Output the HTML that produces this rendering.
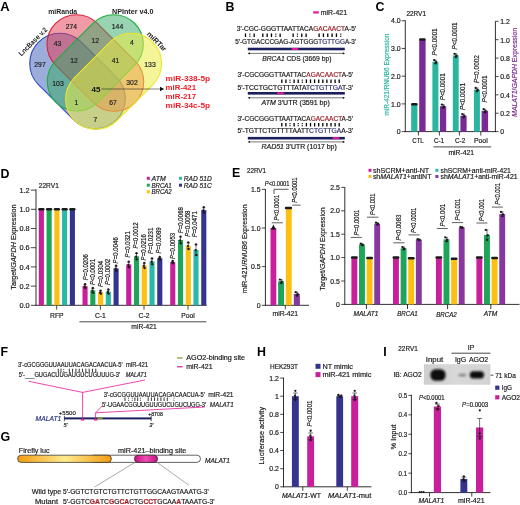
<!DOCTYPE html>
<html lang="en"><head><meta charset="utf-8"><title>Figure</title>
<style>
html,body{margin:0;padding:0;background:#fff;}
body{width:520px;height:505px;overflow:hidden;}
svg{display:block;font-family:"Liberation Sans", sans-serif;}
</style></head><body>
<svg width="520" height="505" viewBox="0 0 520 505">
<defs>
<linearGradient id="gO" x1="0" x2="1" y1="0" y2="0"><stop offset="0" stop-color="#f39c12"/><stop offset="0.5" stop-color="#fdeb8c"/><stop offset="1" stop-color="#f39c12"/></linearGradient>
<linearGradient id="gM" x1="0" x2="1" y1="0" y2="0"><stop offset="0" stop-color="#c4107f"/><stop offset="0.5" stop-color="#f04cb4"/><stop offset="1" stop-color="#c4107f"/></linearGradient>
<linearGradient id="gB" x1="0" x2="1" y1="0" y2="0"><stop offset="0" stop-color="#cfcfcf"/><stop offset="0.5" stop-color="#d8d8d8"/><stop offset="1" stop-color="#d2d2d2"/></linearGradient>
<filter id="bl" x="-30%" y="-30%" width="160%" height="160%"><feGaussianBlur stdDeviation="0.9"/></filter>
</defs>
<rect width="520" height="505" fill="#fff"/>
<text x="0.20" y="10.80" font-size="13" fill="#000" font-weight="bold">A</text>
<path d="M38.15 84.35 A30.2 30.2 0 0 1 80.85 41.65 L116.95 77.75 A30.2 30.2 0 0 1 74.25 120.45 Z" fill="#3c5cb8" fill-opacity="0.5" stroke="#2848c4" stroke-width="1.1"/>
<path d="M55.67 65.09 A29.5 29.5 0 0 1 97.33 23.31 L135.03 60.91 A29.5 29.5 0 0 1 93.37 102.69 Z" fill="#e4384e" fill-opacity="0.5" stroke="#dc2038" stroke-width="1.1"/>
<path d="M92.86 23.42 A29.5 29.5 0 0 1 134.74 64.98 L97.74 102.28 A29.5 29.5 0 0 1 55.86 60.72 Z" fill="#32aa64" fill-opacity="0.5" stroke="#1fae40" stroke-width="1.1"/>
<path d="M110.45 41.65 A30.2 30.2 0 0 1 153.15 84.35 L116.75 120.75 A30.2 30.2 0 0 1 74.05 78.05 Z" fill="#ebeb46" fill-opacity="0.55" stroke="#eee628" stroke-width="1.1"/>
<text x="48.20" y="14.20" font-size="7.2" fill="#222" font-weight="bold" textLength="29.00" lengthAdjust="spacingAndGlyphs">miRanda</text>
<text x="112.00" y="14.20" font-size="7.2" fill="#222" font-weight="bold" textLength="41.50" lengthAdjust="spacingAndGlyphs">NPInter v4.0</text>
<text x="21.50" y="56.50" font-size="7.2" fill="#222" font-weight="bold" transform="rotate(-45 21.50 56.50)" textLength="37.00" lengthAdjust="spacingAndGlyphs">LncBase v.2</text>
<text x="146.50" y="34.50" font-size="7.2" fill="#222" font-weight="bold" transform="rotate(45 146.50 34.50)" textLength="24.50" lengthAdjust="spacingAndGlyphs">miRTar</text>
<text x="71.30" y="28.60" font-size="6.8" text-anchor="middle" fill="#222" stroke="#222" stroke-width="0.18">274</text>
<text x="117.50" y="28.60" font-size="6.8" text-anchor="middle" fill="#222" stroke="#222" stroke-width="0.18">144</text>
<text x="57.50" y="45.50" font-size="6.8" text-anchor="middle" fill="#222" stroke="#222" stroke-width="0.18">43</text>
<text x="95.20" y="42.50" font-size="6.8" text-anchor="middle" fill="#222" stroke="#222" stroke-width="0.18">12</text>
<text x="132.00" y="45.00" font-size="6.8" text-anchor="middle" fill="#222" stroke="#222" stroke-width="0.18">4</text>
<text x="40.00" y="67.00" font-size="6.8" text-anchor="middle" fill="#222" stroke="#222" stroke-width="0.18">297</text>
<text x="74.00" y="62.50" font-size="6.8" text-anchor="middle" fill="#222" stroke="#222" stroke-width="0.18">12</text>
<text x="115.50" y="62.50" font-size="6.8" text-anchor="middle" fill="#222" stroke="#222" stroke-width="0.18">41</text>
<text x="150.00" y="67.00" font-size="6.8" text-anchor="middle" fill="#222" stroke="#222" stroke-width="0.18">133</text>
<text x="58.00" y="85.50" font-size="6.8" text-anchor="middle" fill="#222" stroke="#222" stroke-width="0.18">103</text>
<text x="132.00" y="84.50" font-size="6.8" text-anchor="middle" fill="#222" stroke="#222" stroke-width="0.18">302</text>
<text x="76.50" y="104.50" font-size="6.8" text-anchor="middle" fill="#222" stroke="#222" stroke-width="0.18">1</text>
<text x="113.00" y="104.50" font-size="6.8" text-anchor="middle" fill="#222" stroke="#222" stroke-width="0.18">67</text>
<text x="95.50" y="121.50" font-size="6.8" text-anchor="middle" fill="#222" stroke="#222" stroke-width="0.18">7</text>
<text x="96.00" y="92.00" font-size="8" text-anchor="middle" fill="#111" font-weight="bold">45</text>
<line x1="101.50" y1="89.00" x2="160.50" y2="89.00" stroke="#1a1a1a" stroke-width="0.55"/>
<path d="M164.2 89 L160 86.8 L160 91.2 Z" fill="#111"/>
<text x="165.60" y="80.50" font-size="8" fill="#ee1c25" font-weight="bold" textLength="44.50" lengthAdjust="spacingAndGlyphs">miR-338-5p</text>
<text x="165.60" y="89.55" font-size="8" fill="#ee1c25" font-weight="bold" textLength="30.50" lengthAdjust="spacingAndGlyphs">miR-421</text>
<text x="165.60" y="98.60" font-size="8" fill="#ee1c25" font-weight="bold" textLength="30.50" lengthAdjust="spacingAndGlyphs">miR-217</text>
<text x="165.60" y="107.65" font-size="8" fill="#ee1c25" font-weight="bold" textLength="44.50" lengthAdjust="spacingAndGlyphs">miR-34c-5p</text>
<text x="225.60" y="10.60" font-size="12.4" fill="#000" font-weight="bold">B</text>
<rect x="313.20" y="11.30" width="5.60" height="2.20" fill="#e6189b"/>
<text x="320.80" y="15.00" font-size="7.2" fill="#1a1a1a" stroke="#1a1a1a" stroke-width="0.18" textLength="26.20" lengthAdjust="spacingAndGlyphs">miR-421</text>
<text x="236.80" y="31.00" font-size="6.6" fill="#1a1a1a" stroke="#1a1a1a" stroke-width="0.18" textLength="119.30" lengthAdjust="spacingAndGlyphs">3'-CGC-GGGTTAATTACA<tspan fill="#e5202e">GACAACT</tspan>A-5'</text>
<line x1="245.50" y1="33.40" x2="245.50" y2="37.00" stroke="#000" stroke-width="1.3"/>
<rect x="249.23" y="33.60" width="1.20" height="1.10" fill="#000"/>
<rect x="249.23" y="35.70" width="1.20" height="1.10" fill="#000"/>
<line x1="254.16" y1="33.40" x2="254.16" y2="37.00" stroke="#000" stroke-width="1.3"/>
<line x1="262.82" y1="33.40" x2="262.82" y2="37.00" stroke="#000" stroke-width="1.3"/>
<line x1="267.15" y1="33.40" x2="267.15" y2="37.00" stroke="#000" stroke-width="1.3"/>
<line x1="271.48" y1="33.40" x2="271.48" y2="37.00" stroke="#000" stroke-width="1.3"/>
<rect x="275.21" y="33.60" width="1.20" height="1.10" fill="#000"/>
<rect x="275.21" y="35.70" width="1.20" height="1.10" fill="#000"/>
<line x1="280.14" y1="33.40" x2="280.14" y2="37.00" stroke="#000" stroke-width="1.3"/>
<line x1="293.13" y1="33.40" x2="293.13" y2="37.00" stroke="#000" stroke-width="1.3"/>
<rect x="296.86" y="33.60" width="1.20" height="1.10" fill="#000"/>
<rect x="296.86" y="35.70" width="1.20" height="1.10" fill="#000"/>
<line x1="301.79" y1="33.40" x2="301.79" y2="37.00" stroke="#000" stroke-width="1.3"/>
<line x1="306.12" y1="33.40" x2="306.12" y2="37.00" stroke="#000" stroke-width="1.3"/>
<line x1="319.11" y1="33.40" x2="319.11" y2="37.00" stroke="#000" stroke-width="1.3"/>
<line x1="323.44" y1="33.40" x2="323.44" y2="37.00" stroke="#000" stroke-width="1.3"/>
<line x1="327.77" y1="33.40" x2="327.77" y2="37.00" stroke="#000" stroke-width="1.3"/>
<line x1="332.10" y1="33.40" x2="332.10" y2="37.00" stroke="#000" stroke-width="1.3"/>
<line x1="336.43" y1="33.40" x2="336.43" y2="37.00" stroke="#000" stroke-width="1.3"/>
<rect x="340.16" y="33.60" width="1.20" height="1.10" fill="#000"/>
<rect x="340.16" y="35.70" width="1.20" height="1.10" fill="#000"/>
<text x="235.20" y="44.00" font-size="6.6" fill="#1a1a1a" stroke="#1a1a1a" stroke-width="0.18" textLength="120.90" lengthAdjust="spacingAndGlyphs">5'-GTGACCCGAG-AGTGGG<tspan fill="#3a3f9e">TGTTGG</tspan>A-3'</text>
<rect x="247.80" y="47.70" width="97.00" height="2.60" fill="#1b1f5e"/>
<rect x="291.70" y="48.00" width="6.50" height="2.00" fill="#e6189b"/>
<line x1="249.00" y1="53.40" x2="344.00" y2="53.40" stroke="#1a1a1a" stroke-width="0.6"/>
<path d="M247.6 53.4 l2.2 -1.1 v2.2 Z M345 53.4 l-2.2 -1.1 v2.2 Z" fill="#111"/>
<text x="262.20" y="61.00" font-size="6.8" fill="#1a1a1a" stroke="#1a1a1a" stroke-width="0.18" textLength="69.20" lengthAdjust="spacingAndGlyphs"><tspan font-style="italic">BRCA1</tspan> CDS (3669 bp)</text>
<text x="237.50" y="77.40" font-size="6.6" fill="#1a1a1a" stroke="#1a1a1a" stroke-width="0.18" textLength="115.50" lengthAdjust="spacingAndGlyphs">3'-CGCGGGTTAATTAC<tspan fill="#e5202e">AGACAACT</tspan>A-5'</text>
<line x1="281.80" y1="79.40" x2="281.80" y2="83.00" stroke="#000" stroke-width="1.3"/>
<line x1="285.90" y1="79.40" x2="285.90" y2="83.00" stroke="#000" stroke-width="1.3"/>
<rect x="289.40" y="79.60" width="1.20" height="1.10" fill="#000"/>
<rect x="289.40" y="81.70" width="1.20" height="1.10" fill="#000"/>
<line x1="294.10" y1="79.40" x2="294.10" y2="83.00" stroke="#000" stroke-width="1.3"/>
<line x1="298.20" y1="79.40" x2="298.20" y2="83.00" stroke="#000" stroke-width="1.3"/>
<rect x="301.70" y="79.60" width="1.20" height="1.10" fill="#000"/>
<rect x="301.70" y="81.70" width="1.20" height="1.10" fill="#000"/>
<line x1="306.40" y1="79.40" x2="306.40" y2="83.00" stroke="#000" stroke-width="1.3"/>
<line x1="310.50" y1="79.40" x2="310.50" y2="83.00" stroke="#000" stroke-width="1.3"/>
<line x1="314.60" y1="79.40" x2="314.60" y2="83.00" stroke="#000" stroke-width="1.3"/>
<line x1="318.70" y1="79.40" x2="318.70" y2="83.00" stroke="#000" stroke-width="1.3"/>
<line x1="322.80" y1="79.40" x2="322.80" y2="83.00" stroke="#000" stroke-width="1.3"/>
<line x1="326.90" y1="79.40" x2="326.90" y2="83.00" stroke="#000" stroke-width="1.3"/>
<line x1="331.00" y1="79.40" x2="331.00" y2="83.00" stroke="#000" stroke-width="1.3"/>
<line x1="335.10" y1="79.40" x2="335.10" y2="83.00" stroke="#000" stroke-width="1.3"/>
<line x1="339.20" y1="79.40" x2="339.20" y2="83.00" stroke="#000" stroke-width="1.3"/>
<text x="237.50" y="89.50" font-size="6.6" fill="#1a1a1a" stroke="#1a1a1a" stroke-width="0.18" textLength="115.50" lengthAdjust="spacingAndGlyphs">5'-TCCTGCTGTTTATA<tspan fill="#3a3f9e">TCTGTTGA</tspan>T-3'</text>
<rect x="247.80" y="92.00" width="97.00" height="2.60" fill="#1b1f5e"/>
<rect x="277.30" y="92.30" width="6.60" height="2.00" fill="#e6189b"/>
<line x1="249.00" y1="97.80" x2="344.00" y2="97.80" stroke="#1a1a1a" stroke-width="0.6"/>
<path d="M247.6 97.8 l2.2 -1.1 v2.2 Z M345 97.8 l-2.2 -1.1 v2.2 Z" fill="#111"/>
<text x="261.50" y="105.40" font-size="6.8" fill="#1a1a1a" stroke="#1a1a1a" stroke-width="0.18" textLength="68.30" lengthAdjust="spacingAndGlyphs"><tspan font-style="italic">ATM</tspan> 3'UTR (3591 bp)</text>
<text x="237.50" y="121.00" font-size="6.6" fill="#1a1a1a" stroke="#1a1a1a" stroke-width="0.18" textLength="115.50" lengthAdjust="spacingAndGlyphs">3'-CGCGGGTTAATTACA<tspan fill="#e5202e">GACAACT</tspan>A-5'</text>
<line x1="281.80" y1="122.90" x2="281.80" y2="126.50" stroke="#000" stroke-width="1.3"/>
<line x1="285.90" y1="122.90" x2="285.90" y2="126.50" stroke="#000" stroke-width="1.3"/>
<rect x="289.40" y="123.10" width="1.20" height="1.10" fill="#000"/>
<rect x="289.40" y="125.20" width="1.20" height="1.10" fill="#000"/>
<line x1="294.10" y1="122.90" x2="294.10" y2="126.50" stroke="#000" stroke-width="1.3"/>
<rect x="297.60" y="123.10" width="1.20" height="1.10" fill="#000"/>
<rect x="297.60" y="125.20" width="1.20" height="1.10" fill="#000"/>
<rect x="301.70" y="123.10" width="1.20" height="1.10" fill="#000"/>
<rect x="301.70" y="125.20" width="1.20" height="1.10" fill="#000"/>
<line x1="306.40" y1="122.90" x2="306.40" y2="126.50" stroke="#000" stroke-width="1.3"/>
<line x1="310.50" y1="122.90" x2="310.50" y2="126.50" stroke="#000" stroke-width="1.3"/>
<line x1="314.60" y1="122.90" x2="314.60" y2="126.50" stroke="#000" stroke-width="1.3"/>
<line x1="318.70" y1="122.90" x2="318.70" y2="126.50" stroke="#000" stroke-width="1.3"/>
<line x1="322.80" y1="122.90" x2="322.80" y2="126.50" stroke="#000" stroke-width="1.3"/>
<line x1="326.90" y1="122.90" x2="326.90" y2="126.50" stroke="#000" stroke-width="1.3"/>
<line x1="331.00" y1="122.90" x2="331.00" y2="126.50" stroke="#000" stroke-width="1.3"/>
<line x1="335.10" y1="122.90" x2="335.10" y2="126.50" stroke="#000" stroke-width="1.3"/>
<line x1="339.20" y1="122.90" x2="339.20" y2="126.50" stroke="#000" stroke-width="1.3"/>
<text x="237.50" y="132.60" font-size="6.6" fill="#1a1a1a" stroke="#1a1a1a" stroke-width="0.18" textLength="115.50" lengthAdjust="spacingAndGlyphs">5'-TGTTCTGTTTTAATT<tspan fill="#3a3f9e">CTGTTGA</tspan>A-3'</text>
<rect x="247.80" y="136.90" width="97.00" height="2.60" fill="#1b1f5e"/>
<rect x="332.60" y="137.20" width="6.70" height="2.00" fill="#e6189b"/>
<line x1="249.00" y1="141.90" x2="344.00" y2="141.90" stroke="#1a1a1a" stroke-width="0.6"/>
<path d="M247.6 141.9 l2.2 -1.1 v2.2 Z M345 141.9 l-2.2 -1.1 v2.2 Z" fill="#111"/>
<text x="261.50" y="149.20" font-size="6.8" fill="#1a1a1a" stroke="#1a1a1a" stroke-width="0.18" textLength="75.30" lengthAdjust="spacingAndGlyphs"><tspan font-style="italic">RAD51</tspan> 3'UTR (1017 bp)</text>
<text x="375.60" y="11.00" font-size="12.4" fill="#000" font-weight="bold">C</text>
<text x="406.40" y="16.20" font-size="6.8" fill="#1a1a1a" stroke="#1a1a1a" stroke-width="0.18" textLength="19.60" lengthAdjust="spacingAndGlyphs">22RV1</text>
<line x1="405.30" y1="20.30" x2="405.30" y2="132.05" stroke="#1a1a1a" stroke-width="0.9"/>
<line x1="495.40" y1="21.20" x2="495.40" y2="132.05" stroke="#1a1a1a" stroke-width="0.9"/>
<line x1="404.85" y1="131.60" x2="495.85" y2="131.60" stroke="#1a1a1a" stroke-width="0.9"/>
<line x1="401.70" y1="20.72" x2="405.30" y2="20.72" stroke="#1a1a1a" stroke-width="0.8"/>
<text x="400.70" y="23.42" font-size="6.9" text-anchor="end" fill="#1a1a1a" stroke="#1a1a1a" stroke-width="0.18">4.0</text>
<line x1="401.70" y1="48.44" x2="405.30" y2="48.44" stroke="#1a1a1a" stroke-width="0.8"/>
<text x="400.70" y="51.14" font-size="6.9" text-anchor="end" fill="#1a1a1a" stroke="#1a1a1a" stroke-width="0.18">3.0</text>
<line x1="401.70" y1="76.16" x2="405.30" y2="76.16" stroke="#1a1a1a" stroke-width="0.8"/>
<text x="400.70" y="78.86" font-size="6.9" text-anchor="end" fill="#1a1a1a" stroke="#1a1a1a" stroke-width="0.18">2.0</text>
<line x1="401.70" y1="103.88" x2="405.30" y2="103.88" stroke="#1a1a1a" stroke-width="0.8"/>
<text x="400.70" y="106.58" font-size="6.9" text-anchor="end" fill="#1a1a1a" stroke="#1a1a1a" stroke-width="0.18">1.0</text>
<line x1="401.70" y1="131.60" x2="405.30" y2="131.60" stroke="#1a1a1a" stroke-width="0.8"/>
<text x="400.70" y="134.30" font-size="6.9" text-anchor="end" fill="#1a1a1a" stroke="#1a1a1a" stroke-width="0.18">0</text>
<line x1="495.40" y1="21.32" x2="498.60" y2="21.32" stroke="#1a1a1a" stroke-width="0.8"/>
<text x="500.20" y="24.12" font-size="6.9" fill="#1a1a1a" stroke="#1a1a1a" stroke-width="0.18">1.2</text>
<line x1="495.40" y1="39.70" x2="498.60" y2="39.70" stroke="#1a1a1a" stroke-width="0.8"/>
<text x="500.20" y="42.50" font-size="6.9" fill="#1a1a1a" stroke="#1a1a1a" stroke-width="0.18">1.0</text>
<line x1="495.40" y1="58.08" x2="498.60" y2="58.08" stroke="#1a1a1a" stroke-width="0.8"/>
<text x="500.20" y="60.88" font-size="6.9" fill="#1a1a1a" stroke="#1a1a1a" stroke-width="0.18">0.8</text>
<line x1="495.40" y1="76.46" x2="498.60" y2="76.46" stroke="#1a1a1a" stroke-width="0.8"/>
<text x="500.20" y="79.26" font-size="6.9" fill="#1a1a1a" stroke="#1a1a1a" stroke-width="0.18">0.6</text>
<line x1="495.40" y1="94.84" x2="498.60" y2="94.84" stroke="#1a1a1a" stroke-width="0.8"/>
<text x="500.20" y="97.64" font-size="6.9" fill="#1a1a1a" stroke="#1a1a1a" stroke-width="0.18">0.4</text>
<line x1="495.40" y1="113.22" x2="498.60" y2="113.22" stroke="#1a1a1a" stroke-width="0.8"/>
<text x="500.20" y="116.02" font-size="6.9" fill="#1a1a1a" stroke="#1a1a1a" stroke-width="0.18">0.2</text>
<line x1="495.40" y1="131.60" x2="498.60" y2="131.60" stroke="#1a1a1a" stroke-width="0.8"/>
<text x="500.20" y="134.40" font-size="6.9" fill="#1a1a1a" stroke="#1a1a1a" stroke-width="0.18">0</text>
<rect x="411.20" y="104.30" width="6.20" height="27.30" fill="#2ab5a0"/>
<rect x="419.20" y="39.60" width="6.40" height="92.00" fill="#7a2a96"/>
<line x1="418.40" y1="131.60" x2="418.40" y2="135.60" stroke="#1a1a1a" stroke-width="0.8"/>
<line x1="412.30" y1="104.30" x2="416.30" y2="104.30" stroke="#1a1a1a" stroke-width="2.5" stroke-linecap="round"/>
<line x1="420.40" y1="39.60" x2="424.40" y2="39.60" stroke="#1a1a1a" stroke-width="2.5" stroke-linecap="round"/>
<rect x="432.40" y="61.80" width="6.00" height="69.80" fill="#2ab5a0"/>
<rect x="439.90" y="106.20" width="6.30" height="25.40" fill="#7a2a96"/>
<line x1="439.40" y1="131.60" x2="439.40" y2="135.60" stroke="#1a1a1a" stroke-width="0.8"/>
<line x1="435.40" y1="60.20" x2="435.40" y2="63.40" stroke="#1a1a1a" stroke-width="0.6"/>
<line x1="433.80" y1="60.20" x2="437.00" y2="60.20" stroke="#1a1a1a" stroke-width="0.6"/>
<line x1="433.80" y1="63.40" x2="437.00" y2="63.40" stroke="#1a1a1a" stroke-width="0.6"/>
<circle cx="434.20" cy="60.20" r="1.15" fill="#1a1a1a"/>
<circle cx="436.20" cy="62.10" r="1.15" fill="#1a1a1a"/>
<circle cx="435.60" cy="63.40" r="1.15" fill="#1a1a1a"/>
<line x1="443.05" y1="104.60" x2="443.05" y2="107.80" stroke="#1a1a1a" stroke-width="0.6"/>
<line x1="441.45" y1="104.60" x2="444.65" y2="104.60" stroke="#1a1a1a" stroke-width="0.6"/>
<line x1="441.45" y1="107.80" x2="444.65" y2="107.80" stroke="#1a1a1a" stroke-width="0.6"/>
<circle cx="441.85" cy="104.60" r="1.15" fill="#1a1a1a"/>
<circle cx="443.85" cy="106.50" r="1.15" fill="#1a1a1a"/>
<circle cx="443.25" cy="107.80" r="1.15" fill="#1a1a1a"/>
<rect x="452.80" y="55.40" width="5.90" height="76.20" fill="#2ab5a0"/>
<rect x="460.40" y="115.70" width="6.20" height="15.90" fill="#7a2a96"/>
<line x1="459.40" y1="131.60" x2="459.40" y2="135.60" stroke="#1a1a1a" stroke-width="0.8"/>
<line x1="455.75" y1="53.80" x2="455.75" y2="57.00" stroke="#1a1a1a" stroke-width="0.6"/>
<line x1="454.15" y1="53.80" x2="457.35" y2="53.80" stroke="#1a1a1a" stroke-width="0.6"/>
<line x1="454.15" y1="57.00" x2="457.35" y2="57.00" stroke="#1a1a1a" stroke-width="0.6"/>
<circle cx="454.55" cy="53.80" r="1.15" fill="#1a1a1a"/>
<circle cx="456.55" cy="55.70" r="1.15" fill="#1a1a1a"/>
<circle cx="455.95" cy="57.00" r="1.15" fill="#1a1a1a"/>
<line x1="463.50" y1="114.10" x2="463.50" y2="117.30" stroke="#1a1a1a" stroke-width="0.6"/>
<line x1="461.90" y1="114.10" x2="465.10" y2="114.10" stroke="#1a1a1a" stroke-width="0.6"/>
<line x1="461.90" y1="117.30" x2="465.10" y2="117.30" stroke="#1a1a1a" stroke-width="0.6"/>
<circle cx="462.30" cy="114.10" r="1.15" fill="#1a1a1a"/>
<circle cx="464.30" cy="116.00" r="1.15" fill="#1a1a1a"/>
<circle cx="463.70" cy="117.30" r="1.15" fill="#1a1a1a"/>
<rect x="473.90" y="89.60" width="6.00" height="42.00" fill="#2ab5a0"/>
<rect x="481.60" y="110.80" width="6.50" height="20.80" fill="#7a2a96"/>
<line x1="480.80" y1="131.60" x2="480.80" y2="135.60" stroke="#1a1a1a" stroke-width="0.8"/>
<line x1="476.90" y1="88.00" x2="476.90" y2="91.20" stroke="#1a1a1a" stroke-width="0.6"/>
<line x1="475.30" y1="88.00" x2="478.50" y2="88.00" stroke="#1a1a1a" stroke-width="0.6"/>
<line x1="475.30" y1="91.20" x2="478.50" y2="91.20" stroke="#1a1a1a" stroke-width="0.6"/>
<circle cx="475.70" cy="88.00" r="1.15" fill="#1a1a1a"/>
<circle cx="477.70" cy="89.90" r="1.15" fill="#1a1a1a"/>
<circle cx="477.10" cy="91.20" r="1.15" fill="#1a1a1a"/>
<line x1="484.85" y1="109.20" x2="484.85" y2="112.40" stroke="#1a1a1a" stroke-width="0.6"/>
<line x1="483.25" y1="109.20" x2="486.45" y2="109.20" stroke="#1a1a1a" stroke-width="0.6"/>
<line x1="483.25" y1="112.40" x2="486.45" y2="112.40" stroke="#1a1a1a" stroke-width="0.6"/>
<circle cx="483.65" cy="109.20" r="1.15" fill="#1a1a1a"/>
<circle cx="485.65" cy="111.10" r="1.15" fill="#1a1a1a"/>
<circle cx="485.05" cy="112.40" r="1.15" fill="#1a1a1a"/>
<text x="418.00" y="143.40" font-size="6.9" text-anchor="middle" fill="#1a1a1a" stroke="#1a1a1a" stroke-width="0.18" textLength="11.50" lengthAdjust="spacingAndGlyphs">CTL</text>
<text x="439.00" y="143.40" font-size="6.9" text-anchor="middle" fill="#1a1a1a" stroke="#1a1a1a" stroke-width="0.18" textLength="10.20" lengthAdjust="spacingAndGlyphs">C-1</text>
<text x="460.10" y="143.40" font-size="6.9" text-anchor="middle" fill="#1a1a1a" stroke="#1a1a1a" stroke-width="0.18" textLength="10.40" lengthAdjust="spacingAndGlyphs">C-2</text>
<text x="480.80" y="143.40" font-size="6.9" text-anchor="middle" fill="#1a1a1a" stroke="#1a1a1a" stroke-width="0.18" textLength="13.80" lengthAdjust="spacingAndGlyphs">Pool</text>
<line x1="433.40" y1="146.90" x2="491.20" y2="146.90" stroke="#1a1a1a" stroke-width="0.8"/>
<text x="461.20" y="154.50" font-size="6.9" text-anchor="middle" fill="#1a1a1a" stroke="#1a1a1a" stroke-width="0.18" textLength="25.50" lengthAdjust="spacingAndGlyphs">miR-421</text>
<text x="389.30" y="115.60" font-size="7.2" fill="#2ab5a0" stroke="#2ab5a0" stroke-width="0.18" transform="rotate(-90 389.30 115.60)" textLength="82.00" lengthAdjust="spacingAndGlyphs">miR-421/RNUB6 Expression</text>
<text x="517.20" y="116.80" font-size="7.2" fill="#7a2a96" stroke="#7a2a96" stroke-width="0.18" transform="rotate(-90 517.20 116.80)" textLength="88.80" lengthAdjust="spacingAndGlyphs"><tspan font-style="italic">MALAT1</tspan>/<tspan font-style="italic">GAPDH</tspan> Expression</text>
<text x="436.90" y="55.40" font-size="6.4" fill="#1a1a1a" stroke="#1a1a1a" stroke-width="0.18" transform="rotate(-90 436.90 55.40)" textLength="27.00" lengthAdjust="spacingAndGlyphs"><tspan font-style="italic">P</tspan>&lt;0.0001</text>
<text x="456.90" y="49.40" font-size="6.4" fill="#1a1a1a" stroke="#1a1a1a" stroke-width="0.18" transform="rotate(-90 456.90 49.40)" textLength="27.00" lengthAdjust="spacingAndGlyphs"><tspan font-style="italic">P</tspan>&lt;0.0001</text>
<text x="445.10" y="100.20" font-size="6.4" fill="#1a1a1a" stroke="#1a1a1a" stroke-width="0.18" transform="rotate(-90 445.10 100.20)" textLength="27.00" lengthAdjust="spacingAndGlyphs"><tspan font-style="italic">P</tspan>&lt;0.0001</text>
<text x="465.30" y="110.00" font-size="6.4" fill="#1a1a1a" stroke="#1a1a1a" stroke-width="0.18" transform="rotate(-90 465.30 110.00)" textLength="27.00" lengthAdjust="spacingAndGlyphs"><tspan font-style="italic">P</tspan>&lt;0.0001</text>
<text x="479.30" y="83.00" font-size="6.4" fill="#1a1a1a" stroke="#1a1a1a" stroke-width="0.18" transform="rotate(-90 479.30 83.00)" textLength="28.00" lengthAdjust="spacingAndGlyphs"><tspan font-style="italic">P</tspan>=0.0002</text>
<text x="487.30" y="102.40" font-size="6.4" fill="#1a1a1a" stroke="#1a1a1a" stroke-width="0.18" transform="rotate(-90 487.30 102.40)" textLength="27.00" lengthAdjust="spacingAndGlyphs"><tspan font-style="italic">P</tspan>&lt;0.0001</text>
<text x="0.60" y="178.40" font-size="12.4" fill="#000" font-weight="bold">D</text>
<text x="38.80" y="188.20" font-size="6.6" fill="#1a1a1a" stroke="#1a1a1a" stroke-width="0.18" textLength="20.00" lengthAdjust="spacingAndGlyphs">22RV1</text>
<line x1="36.00" y1="189.30" x2="36.00" y2="305.70" stroke="#1a1a1a" stroke-width="0.9"/>
<line x1="35.60" y1="305.30" x2="206.80" y2="305.30" stroke="#1a1a1a" stroke-width="0.9"/>
<line x1="30.80" y1="190.10" x2="36.00" y2="190.10" stroke="#1a1a1a" stroke-width="0.8"/>
<text x="29.60" y="192.70" font-size="6.9" text-anchor="end" fill="#1a1a1a" stroke="#1a1a1a" stroke-width="0.18" textLength="10.20" lengthAdjust="spacingAndGlyphs">1.2</text>
<line x1="30.80" y1="209.30" x2="36.00" y2="209.30" stroke="#1a1a1a" stroke-width="0.8"/>
<text x="29.60" y="211.90" font-size="6.9" text-anchor="end" fill="#1a1a1a" stroke="#1a1a1a" stroke-width="0.18" textLength="10.20" lengthAdjust="spacingAndGlyphs">1.0</text>
<line x1="30.80" y1="228.50" x2="36.00" y2="228.50" stroke="#1a1a1a" stroke-width="0.8"/>
<text x="29.60" y="231.10" font-size="6.9" text-anchor="end" fill="#1a1a1a" stroke="#1a1a1a" stroke-width="0.18" textLength="10.20" lengthAdjust="spacingAndGlyphs">0.8</text>
<line x1="30.80" y1="247.70" x2="36.00" y2="247.70" stroke="#1a1a1a" stroke-width="0.8"/>
<text x="29.60" y="250.30" font-size="6.9" text-anchor="end" fill="#1a1a1a" stroke="#1a1a1a" stroke-width="0.18" textLength="10.20" lengthAdjust="spacingAndGlyphs">0.6</text>
<line x1="30.80" y1="266.90" x2="36.00" y2="266.90" stroke="#1a1a1a" stroke-width="0.8"/>
<text x="29.60" y="269.50" font-size="6.9" text-anchor="end" fill="#1a1a1a" stroke="#1a1a1a" stroke-width="0.18" textLength="10.20" lengthAdjust="spacingAndGlyphs">0.4</text>
<line x1="30.80" y1="286.10" x2="36.00" y2="286.10" stroke="#1a1a1a" stroke-width="0.8"/>
<text x="29.60" y="288.70" font-size="6.9" text-anchor="end" fill="#1a1a1a" stroke="#1a1a1a" stroke-width="0.18" textLength="10.20" lengthAdjust="spacingAndGlyphs">0.2</text>
<line x1="30.80" y1="305.30" x2="36.00" y2="305.30" stroke="#1a1a1a" stroke-width="0.8"/>
<text x="29.60" y="307.90" font-size="6.9" text-anchor="end" fill="#1a1a1a" stroke="#1a1a1a" stroke-width="0.18" textLength="10.20" lengthAdjust="spacingAndGlyphs">0.0</text>
<rect x="38.80" y="209.30" width="5.10" height="96.00" fill="#c8209a"/>
<line x1="39.45" y1="209.30" x2="43.25" y2="209.30" stroke="#1a1a1a" stroke-width="2.5" stroke-linecap="round"/>
<rect x="46.56" y="209.30" width="5.10" height="96.00" fill="#1ea55a"/>
<line x1="47.21" y1="209.30" x2="51.01" y2="209.30" stroke="#1a1a1a" stroke-width="2.5" stroke-linecap="round"/>
<rect x="54.32" y="209.30" width="5.10" height="96.00" fill="#fdc010"/>
<line x1="54.97" y1="209.30" x2="58.77" y2="209.30" stroke="#1a1a1a" stroke-width="2.5" stroke-linecap="round"/>
<rect x="62.08" y="209.30" width="5.10" height="96.00" fill="#2bb8a6"/>
<line x1="62.73" y1="209.30" x2="66.53" y2="209.30" stroke="#1a1a1a" stroke-width="2.5" stroke-linecap="round"/>
<rect x="69.84" y="209.30" width="5.10" height="96.00" fill="#34348f"/>
<line x1="70.49" y1="209.30" x2="74.29" y2="209.30" stroke="#1a1a1a" stroke-width="2.5" stroke-linecap="round"/>
<rect x="82.50" y="286.10" width="5.10" height="19.20" fill="#c8209a"/>
<line x1="85.05" y1="284.50" x2="85.05" y2="287.70" stroke="#1a1a1a" stroke-width="0.6"/>
<line x1="83.45" y1="284.50" x2="86.65" y2="284.50" stroke="#1a1a1a" stroke-width="0.6"/>
<line x1="83.45" y1="287.70" x2="86.65" y2="287.70" stroke="#1a1a1a" stroke-width="0.6"/>
<circle cx="85.05" cy="284.10" r="1.15" fill="#1a1a1a"/>
<circle cx="84.65" cy="286.40" r="1.15" fill="#1a1a1a"/>
<circle cx="85.35" cy="288.10" r="1.15" fill="#1a1a1a"/>
<rect x="90.26" y="290.42" width="5.10" height="14.88" fill="#1ea55a"/>
<line x1="92.81" y1="288.42" x2="92.81" y2="292.42" stroke="#1a1a1a" stroke-width="0.6"/>
<line x1="91.21" y1="288.42" x2="94.41" y2="288.42" stroke="#1a1a1a" stroke-width="0.6"/>
<line x1="91.21" y1="292.42" x2="94.41" y2="292.42" stroke="#1a1a1a" stroke-width="0.6"/>
<circle cx="92.81" cy="288.02" r="1.15" fill="#1a1a1a"/>
<circle cx="92.41" cy="290.72" r="1.15" fill="#1a1a1a"/>
<circle cx="93.11" cy="292.82" r="1.15" fill="#1a1a1a"/>
<rect x="98.02" y="292.15" width="5.10" height="13.15" fill="#fdc010"/>
<line x1="100.57" y1="290.95" x2="100.57" y2="293.35" stroke="#1a1a1a" stroke-width="0.6"/>
<line x1="98.97" y1="290.95" x2="102.17" y2="290.95" stroke="#1a1a1a" stroke-width="0.6"/>
<line x1="98.97" y1="293.35" x2="102.17" y2="293.35" stroke="#1a1a1a" stroke-width="0.6"/>
<circle cx="100.57" cy="290.55" r="1.15" fill="#1a1a1a"/>
<circle cx="100.17" cy="292.45" r="1.15" fill="#1a1a1a"/>
<circle cx="100.87" cy="293.75" r="1.15" fill="#1a1a1a"/>
<rect x="105.78" y="291.67" width="5.10" height="13.63" fill="#2bb8a6"/>
<line x1="108.33" y1="289.87" x2="108.33" y2="293.47" stroke="#1a1a1a" stroke-width="0.6"/>
<line x1="106.73" y1="289.87" x2="109.93" y2="289.87" stroke="#1a1a1a" stroke-width="0.6"/>
<line x1="106.73" y1="293.47" x2="109.93" y2="293.47" stroke="#1a1a1a" stroke-width="0.6"/>
<circle cx="108.33" cy="289.47" r="1.15" fill="#1a1a1a"/>
<circle cx="107.93" cy="291.97" r="1.15" fill="#1a1a1a"/>
<circle cx="108.63" cy="293.87" r="1.15" fill="#1a1a1a"/>
<rect x="113.54" y="268.34" width="5.10" height="36.96" fill="#34348f"/>
<line x1="116.09" y1="266.14" x2="116.09" y2="270.54" stroke="#1a1a1a" stroke-width="0.6"/>
<line x1="114.49" y1="266.14" x2="117.69" y2="266.14" stroke="#1a1a1a" stroke-width="0.6"/>
<line x1="114.49" y1="270.54" x2="117.69" y2="270.54" stroke="#1a1a1a" stroke-width="0.6"/>
<circle cx="116.09" cy="265.74" r="1.15" fill="#1a1a1a"/>
<circle cx="115.69" cy="268.64" r="1.15" fill="#1a1a1a"/>
<circle cx="116.39" cy="270.94" r="1.15" fill="#1a1a1a"/>
<rect x="126.20" y="264.50" width="5.10" height="40.80" fill="#c8209a"/>
<line x1="128.75" y1="262.10" x2="128.75" y2="266.90" stroke="#1a1a1a" stroke-width="0.6"/>
<line x1="127.15" y1="262.10" x2="130.35" y2="262.10" stroke="#1a1a1a" stroke-width="0.6"/>
<line x1="127.15" y1="266.90" x2="130.35" y2="266.90" stroke="#1a1a1a" stroke-width="0.6"/>
<circle cx="128.75" cy="261.70" r="1.15" fill="#1a1a1a"/>
<circle cx="128.35" cy="264.80" r="1.15" fill="#1a1a1a"/>
<circle cx="129.05" cy="267.30" r="1.15" fill="#1a1a1a"/>
<rect x="133.96" y="256.34" width="5.10" height="48.96" fill="#1ea55a"/>
<line x1="136.51" y1="253.54" x2="136.51" y2="259.14" stroke="#1a1a1a" stroke-width="0.6"/>
<line x1="134.91" y1="253.54" x2="138.11" y2="253.54" stroke="#1a1a1a" stroke-width="0.6"/>
<line x1="134.91" y1="259.14" x2="138.11" y2="259.14" stroke="#1a1a1a" stroke-width="0.6"/>
<circle cx="136.51" cy="253.14" r="1.15" fill="#1a1a1a"/>
<circle cx="136.11" cy="256.64" r="1.15" fill="#1a1a1a"/>
<circle cx="136.81" cy="259.54" r="1.15" fill="#1a1a1a"/>
<rect x="141.72" y="265.46" width="5.10" height="39.84" fill="#fdc010"/>
<line x1="144.27" y1="263.26" x2="144.27" y2="267.66" stroke="#1a1a1a" stroke-width="0.6"/>
<line x1="142.67" y1="263.26" x2="145.87" y2="263.26" stroke="#1a1a1a" stroke-width="0.6"/>
<line x1="142.67" y1="267.66" x2="145.87" y2="267.66" stroke="#1a1a1a" stroke-width="0.6"/>
<circle cx="144.27" cy="262.86" r="1.15" fill="#1a1a1a"/>
<circle cx="143.87" cy="265.76" r="1.15" fill="#1a1a1a"/>
<circle cx="144.57" cy="268.06" r="1.15" fill="#1a1a1a"/>
<rect x="149.48" y="261.43" width="5.10" height="43.87" fill="#2bb8a6"/>
<line x1="152.03" y1="258.83" x2="152.03" y2="264.03" stroke="#1a1a1a" stroke-width="0.6"/>
<line x1="150.43" y1="258.83" x2="153.63" y2="258.83" stroke="#1a1a1a" stroke-width="0.6"/>
<line x1="150.43" y1="264.03" x2="153.63" y2="264.03" stroke="#1a1a1a" stroke-width="0.6"/>
<circle cx="152.03" cy="258.43" r="1.15" fill="#1a1a1a"/>
<circle cx="151.63" cy="261.73" r="1.15" fill="#1a1a1a"/>
<circle cx="152.33" cy="264.43" r="1.15" fill="#1a1a1a"/>
<rect x="157.24" y="258.26" width="5.10" height="47.04" fill="#34348f"/>
<line x1="159.79" y1="257.36" x2="159.79" y2="259.16" stroke="#1a1a1a" stroke-width="0.6"/>
<line x1="158.19" y1="257.36" x2="161.39" y2="257.36" stroke="#1a1a1a" stroke-width="0.6"/>
<line x1="158.19" y1="259.16" x2="161.39" y2="259.16" stroke="#1a1a1a" stroke-width="0.6"/>
<circle cx="159.79" cy="256.96" r="1.15" fill="#1a1a1a"/>
<circle cx="159.39" cy="258.56" r="1.15" fill="#1a1a1a"/>
<circle cx="160.09" cy="259.56" r="1.15" fill="#1a1a1a"/>
<rect x="170.20" y="262.10" width="5.10" height="43.20" fill="#c8209a"/>
<line x1="172.75" y1="261.20" x2="172.75" y2="263.00" stroke="#1a1a1a" stroke-width="0.6"/>
<line x1="171.15" y1="261.20" x2="174.35" y2="261.20" stroke="#1a1a1a" stroke-width="0.6"/>
<line x1="171.15" y1="263.00" x2="174.35" y2="263.00" stroke="#1a1a1a" stroke-width="0.6"/>
<circle cx="172.75" cy="260.80" r="1.15" fill="#1a1a1a"/>
<circle cx="172.35" cy="262.40" r="1.15" fill="#1a1a1a"/>
<circle cx="173.05" cy="263.40" r="1.15" fill="#1a1a1a"/>
<rect x="177.96" y="240.02" width="5.10" height="65.28" fill="#1ea55a"/>
<line x1="180.51" y1="237.02" x2="180.51" y2="243.02" stroke="#1a1a1a" stroke-width="0.6"/>
<line x1="178.91" y1="237.02" x2="182.11" y2="237.02" stroke="#1a1a1a" stroke-width="0.6"/>
<line x1="178.91" y1="243.02" x2="182.11" y2="243.02" stroke="#1a1a1a" stroke-width="0.6"/>
<circle cx="180.51" cy="236.62" r="1.15" fill="#1a1a1a"/>
<circle cx="180.11" cy="240.32" r="1.15" fill="#1a1a1a"/>
<circle cx="180.81" cy="243.42" r="1.15" fill="#1a1a1a"/>
<rect x="185.72" y="245.78" width="5.10" height="59.52" fill="#fdc010"/>
<line x1="188.27" y1="242.78" x2="188.27" y2="248.78" stroke="#1a1a1a" stroke-width="0.6"/>
<line x1="186.67" y1="242.78" x2="189.87" y2="242.78" stroke="#1a1a1a" stroke-width="0.6"/>
<line x1="186.67" y1="248.78" x2="189.87" y2="248.78" stroke="#1a1a1a" stroke-width="0.6"/>
<circle cx="188.27" cy="242.38" r="1.15" fill="#1a1a1a"/>
<circle cx="187.87" cy="246.08" r="1.15" fill="#1a1a1a"/>
<circle cx="188.57" cy="249.18" r="1.15" fill="#1a1a1a"/>
<rect x="193.48" y="249.81" width="5.10" height="55.49" fill="#2bb8a6"/>
<line x1="196.03" y1="244.81" x2="196.03" y2="254.81" stroke="#1a1a1a" stroke-width="0.6"/>
<line x1="194.43" y1="244.81" x2="197.63" y2="244.81" stroke="#1a1a1a" stroke-width="0.6"/>
<line x1="194.43" y1="254.81" x2="197.63" y2="254.81" stroke="#1a1a1a" stroke-width="0.6"/>
<circle cx="196.03" cy="244.41" r="1.15" fill="#1a1a1a"/>
<circle cx="195.63" cy="250.11" r="1.15" fill="#1a1a1a"/>
<circle cx="196.33" cy="255.21" r="1.15" fill="#1a1a1a"/>
<rect x="201.24" y="210.07" width="5.10" height="95.23" fill="#34348f"/>
<line x1="203.79" y1="207.67" x2="203.79" y2="212.47" stroke="#1a1a1a" stroke-width="0.6"/>
<line x1="202.19" y1="207.67" x2="205.39" y2="207.67" stroke="#1a1a1a" stroke-width="0.6"/>
<line x1="202.19" y1="212.47" x2="205.39" y2="212.47" stroke="#1a1a1a" stroke-width="0.6"/>
<circle cx="203.79" cy="207.27" r="1.15" fill="#1a1a1a"/>
<circle cx="203.39" cy="210.37" r="1.15" fill="#1a1a1a"/>
<circle cx="204.09" cy="212.87" r="1.15" fill="#1a1a1a"/>
<text x="56.80" y="317.80" font-size="6.8" text-anchor="middle" fill="#1a1a1a" stroke="#1a1a1a" stroke-width="0.18">RFP</text>
<line x1="56.70" y1="305.30" x2="56.70" y2="309.70" stroke="#1a1a1a" stroke-width="0.8"/>
<text x="100.40" y="317.80" font-size="6.8" text-anchor="middle" fill="#1a1a1a" stroke="#1a1a1a" stroke-width="0.18">C-1</text>
<line x1="100.40" y1="305.30" x2="100.40" y2="309.70" stroke="#1a1a1a" stroke-width="0.8"/>
<text x="144.00" y="317.80" font-size="6.8" text-anchor="middle" fill="#1a1a1a" stroke="#1a1a1a" stroke-width="0.18">C-2</text>
<line x1="144.00" y1="305.30" x2="144.00" y2="309.70" stroke="#1a1a1a" stroke-width="0.8"/>
<text x="188.00" y="317.80" font-size="6.8" text-anchor="middle" fill="#1a1a1a" stroke="#1a1a1a" stroke-width="0.18">Pool</text>
<line x1="188.00" y1="305.30" x2="188.00" y2="309.70" stroke="#1a1a1a" stroke-width="0.8"/>
<line x1="79.40" y1="321.80" x2="206.40" y2="321.80" stroke="#1a1a1a" stroke-width="0.8"/>
<text x="144.00" y="328.90" font-size="6.9" text-anchor="middle" fill="#1a1a1a" stroke="#1a1a1a" stroke-width="0.18" textLength="25.30" lengthAdjust="spacingAndGlyphs">miR-421</text>
<text x="15.60" y="289.70" font-size="6.8" fill="#1a1a1a" stroke="#1a1a1a" stroke-width="0.18" transform="rotate(-90 15.60 289.70)" textLength="85.30" lengthAdjust="spacingAndGlyphs">Target/<tspan font-style="italic">GAPDH</tspan> Expression</text>
<rect x="146.80" y="176.80" width="3.00" height="3.00" fill="#c8209a"/>
<text x="151.50" y="180.80" font-size="7.0" fill="#1a1a1a" stroke="#1a1a1a" stroke-width="0.18" font-style="italic" textLength="14.20" lengthAdjust="spacingAndGlyphs">ATM</text>
<rect x="146.80" y="183.70" width="3.00" height="3.00" fill="#1ea55a"/>
<text x="151.50" y="187.70" font-size="7.0" fill="#1a1a1a" stroke="#1a1a1a" stroke-width="0.18" font-style="italic" textLength="20.20" lengthAdjust="spacingAndGlyphs">BRCA1</text>
<rect x="146.80" y="190.30" width="3.00" height="3.00" fill="#fdc010"/>
<text x="151.50" y="194.30" font-size="7.0" fill="#1a1a1a" stroke="#1a1a1a" stroke-width="0.18" font-style="italic" textLength="20.20" lengthAdjust="spacingAndGlyphs">BRCA2</text>
<rect x="179.00" y="176.80" width="3.00" height="3.00" fill="#2bb8a6"/>
<text x="183.70" y="180.80" font-size="7.0" fill="#1a1a1a" stroke="#1a1a1a" stroke-width="0.18" font-style="italic" textLength="28.00" lengthAdjust="spacingAndGlyphs">RAD 51D</text>
<rect x="179.00" y="183.70" width="3.00" height="3.00" fill="#34348f"/>
<text x="183.70" y="187.70" font-size="7.0" fill="#1a1a1a" stroke="#1a1a1a" stroke-width="0.18" font-style="italic" textLength="28.00" lengthAdjust="spacingAndGlyphs">RAD 51C</text>
<text x="87.54" y="280.20" font-size="6.5" fill="#1a1a1a" stroke="#1a1a1a" stroke-width="0.18" transform="rotate(-90 87.54 280.20)" textLength="26.20" lengthAdjust="spacingAndGlyphs"><tspan font-style="italic">P</tspan>=0.0206</text>
<text x="95.14" y="285.10" font-size="6.5" fill="#1a1a1a" stroke="#1a1a1a" stroke-width="0.18" transform="rotate(-90 95.14 285.10)" textLength="26.20" lengthAdjust="spacingAndGlyphs"><tspan font-style="italic">P</tspan>&lt;0.0001</text>
<text x="102.64" y="287.00" font-size="6.5" fill="#1a1a1a" stroke="#1a1a1a" stroke-width="0.18" transform="rotate(-90 102.64 287.00)" textLength="26.20" lengthAdjust="spacingAndGlyphs"><tspan font-style="italic">P</tspan>=0.0304</text>
<text x="110.34" y="285.00" font-size="6.5" fill="#1a1a1a" stroke="#1a1a1a" stroke-width="0.18" transform="rotate(-90 110.34 285.00)" textLength="26.20" lengthAdjust="spacingAndGlyphs"><tspan font-style="italic">P</tspan>=0.0002</text>
<text x="118.34" y="263.40" font-size="6.5" fill="#1a1a1a" stroke="#1a1a1a" stroke-width="0.18" transform="rotate(-90 118.34 263.40)" textLength="26.20" lengthAdjust="spacingAndGlyphs"><tspan font-style="italic">P</tspan>=0.0046</text>
<text x="130.14" y="257.40" font-size="6.5" fill="#1a1a1a" stroke="#1a1a1a" stroke-width="0.18" transform="rotate(-90 130.14 257.40)" textLength="26.20" lengthAdjust="spacingAndGlyphs"><tspan font-style="italic">P</tspan>=0.0321</text>
<text x="138.34" y="248.50" font-size="6.5" fill="#1a1a1a" stroke="#1a1a1a" stroke-width="0.18" transform="rotate(-90 138.34 248.50)" textLength="26.20" lengthAdjust="spacingAndGlyphs"><tspan font-style="italic">P</tspan>=0.0012</text>
<text x="145.64" y="260.40" font-size="6.5" fill="#1a1a1a" stroke="#1a1a1a" stroke-width="0.18" transform="rotate(-90 145.64 260.40)" textLength="26.20" lengthAdjust="spacingAndGlyphs"><tspan font-style="italic">P</tspan>=0.0216</text>
<text x="152.54" y="253.90" font-size="6.5" fill="#1a1a1a" stroke="#1a1a1a" stroke-width="0.18" transform="rotate(-90 152.54 253.90)" textLength="26.20" lengthAdjust="spacingAndGlyphs"><tspan font-style="italic">P</tspan>=0.0231</text>
<text x="161.04" y="253.50" font-size="6.5" fill="#1a1a1a" stroke="#1a1a1a" stroke-width="0.18" transform="rotate(-90 161.04 253.50)" textLength="26.20" lengthAdjust="spacingAndGlyphs"><tspan font-style="italic">P</tspan>=0.0089</text>
<text x="175.04" y="259.00" font-size="6.5" fill="#1a1a1a" stroke="#1a1a1a" stroke-width="0.18" transform="rotate(-90 175.04 259.00)" textLength="26.20" lengthAdjust="spacingAndGlyphs"><tspan font-style="italic">P</tspan>=0.0053</text>
<text x="182.54" y="233.30" font-size="6.5" fill="#1a1a1a" stroke="#1a1a1a" stroke-width="0.18" transform="rotate(-90 182.54 233.30)" textLength="26.20" lengthAdjust="spacingAndGlyphs"><tspan font-style="italic">P</tspan>=0.0068</text>
<text x="189.84" y="236.70" font-size="6.5" fill="#1a1a1a" stroke="#1a1a1a" stroke-width="0.18" transform="rotate(-90 189.84 236.70)" textLength="26.20" lengthAdjust="spacingAndGlyphs"><tspan font-style="italic">P</tspan>=0.0058</text>
<text x="197.34" y="237.30" font-size="6.5" fill="#1a1a1a" stroke="#1a1a1a" stroke-width="0.18" transform="rotate(-90 197.34 237.30)" textLength="26.20" lengthAdjust="spacingAndGlyphs"><tspan font-style="italic">P</tspan>=0.0471</text>
<text x="232.00" y="176.60" font-size="12.4" fill="#000" font-weight="bold">E</text>
<text x="247.00" y="173.30" font-size="6.6" fill="#1a1a1a" stroke="#1a1a1a" stroke-width="0.18" textLength="19.00" lengthAdjust="spacingAndGlyphs">22RV1</text>
<line x1="265.40" y1="189.00" x2="265.40" y2="305.70" stroke="#1a1a1a" stroke-width="0.9"/>
<line x1="265.00" y1="305.30" x2="309.00" y2="305.30" stroke="#1a1a1a" stroke-width="0.9"/>
<line x1="261.80" y1="189.35" x2="265.40" y2="189.35" stroke="#1a1a1a" stroke-width="0.8"/>
<text x="260.60" y="191.95" font-size="6.9" text-anchor="end" fill="#1a1a1a" stroke="#1a1a1a" stroke-width="0.18">1.5</text>
<line x1="261.80" y1="228.00" x2="265.40" y2="228.00" stroke="#1a1a1a" stroke-width="0.8"/>
<text x="260.60" y="230.60" font-size="6.9" text-anchor="end" fill="#1a1a1a" stroke="#1a1a1a" stroke-width="0.18">1.0</text>
<line x1="261.80" y1="266.65" x2="265.40" y2="266.65" stroke="#1a1a1a" stroke-width="0.8"/>
<text x="260.60" y="269.25" font-size="6.9" text-anchor="end" fill="#1a1a1a" stroke="#1a1a1a" stroke-width="0.18">0.5</text>
<line x1="261.80" y1="305.30" x2="265.40" y2="305.30" stroke="#1a1a1a" stroke-width="0.8"/>
<text x="260.60" y="307.90" font-size="6.9" text-anchor="end" fill="#1a1a1a" stroke="#1a1a1a" stroke-width="0.18">0</text>
<line x1="285.30" y1="305.30" x2="285.30" y2="309.30" stroke="#1a1a1a" stroke-width="0.8"/>
<rect x="270.50" y="228.00" width="5.80" height="77.30" fill="#c8209a"/>
<path d="M271.0 229.4 L275.79999999999995 229.4 L273.4 224.4 Z" fill="#111"/>
<rect x="278.10" y="281.34" width="5.90" height="23.96" fill="#1ea55a"/>
<line x1="281.05" y1="279.54" x2="281.05" y2="283.14" stroke="#1a1a1a" stroke-width="0.6"/>
<line x1="279.45" y1="279.54" x2="282.65" y2="279.54" stroke="#1a1a1a" stroke-width="0.6"/>
<line x1="279.45" y1="283.14" x2="282.65" y2="283.14" stroke="#1a1a1a" stroke-width="0.6"/>
<circle cx="279.85" cy="279.54" r="1.15" fill="#1a1a1a"/>
<circle cx="281.85" cy="281.64" r="1.15" fill="#1a1a1a"/>
<circle cx="281.25" cy="283.14" r="1.15" fill="#1a1a1a"/>
<rect x="285.80" y="208.29" width="5.90" height="97.01" fill="#fdc010"/>
<line x1="286.05" y1="207.99" x2="290.85" y2="207.99" stroke="#1a1a1a" stroke-width="2.5" stroke-linecap="round"/>
<rect x="293.80" y="293.94" width="6.10" height="11.36" fill="#87389f"/>
<line x1="296.85" y1="292.14" x2="296.85" y2="295.74" stroke="#1a1a1a" stroke-width="0.6"/>
<line x1="295.25" y1="292.14" x2="298.45" y2="292.14" stroke="#1a1a1a" stroke-width="0.6"/>
<line x1="295.25" y1="295.74" x2="298.45" y2="295.74" stroke="#1a1a1a" stroke-width="0.6"/>
<circle cx="295.65" cy="292.14" r="1.15" fill="#1a1a1a"/>
<circle cx="297.65" cy="294.24" r="1.15" fill="#1a1a1a"/>
<circle cx="297.05" cy="295.74" r="1.15" fill="#1a1a1a"/>
<text x="285.30" y="316.20" font-size="7.0" text-anchor="middle" fill="#1a1a1a" stroke="#1a1a1a" stroke-width="0.18" textLength="25.60" lengthAdjust="spacingAndGlyphs">miR-421</text>
<text x="247.00" y="293.20" font-size="6.8" fill="#1a1a1a" stroke="#1a1a1a" stroke-width="0.18" transform="rotate(-90 247.00 293.20)" textLength="88.80" lengthAdjust="spacingAndGlyphs">miR-421/<tspan font-style="italic">RNUB6</tspan> Expression</text>
<text x="264.80" y="185.80" font-size="6.5" fill="#1a1a1a" stroke="#1a1a1a" stroke-width="0.18" textLength="24.70" lengthAdjust="spacingAndGlyphs"><tspan font-style="italic">P</tspan>&lt;0.0001</text>
<path d="M274 194 V189.3 H288.6" fill="none" stroke="#333" stroke-width="0.8"/>
<text x="279.44" y="220.40" font-size="6.5" fill="#1a1a1a" stroke="#1a1a1a" stroke-width="0.18" transform="rotate(-90 279.44 220.40)" textLength="25.60" lengthAdjust="spacingAndGlyphs"><tspan font-style="italic">P</tspan>&lt;0.0001</text>
<line x1="271.70" y1="222.80" x2="282.80" y2="222.80" stroke="#333" stroke-width="0.8"/>
<text x="297.24" y="202.80" font-size="6.5" fill="#1a1a1a" stroke="#1a1a1a" stroke-width="0.18" transform="rotate(-90 297.24 202.80)" textLength="25.40" lengthAdjust="spacingAndGlyphs"><tspan font-style="italic">P</tspan>&lt;0.0001</text>
<line x1="292.40" y1="205.10" x2="300.60" y2="205.10" stroke="#333" stroke-width="0.8"/>
<line x1="344.80" y1="187.10" x2="344.80" y2="304.80" stroke="#1a1a1a" stroke-width="0.9"/>
<line x1="344.40" y1="304.40" x2="519.50" y2="304.40" stroke="#1a1a1a" stroke-width="0.9"/>
<line x1="341.20" y1="187.40" x2="344.80" y2="187.40" stroke="#1a1a1a" stroke-width="0.8"/>
<text x="339.80" y="190.00" font-size="6.9" text-anchor="end" fill="#1a1a1a" stroke="#1a1a1a" stroke-width="0.18">2.5</text>
<line x1="341.20" y1="210.80" x2="344.80" y2="210.80" stroke="#1a1a1a" stroke-width="0.8"/>
<text x="339.80" y="213.40" font-size="6.9" text-anchor="end" fill="#1a1a1a" stroke="#1a1a1a" stroke-width="0.18">2.0</text>
<line x1="341.20" y1="234.20" x2="344.80" y2="234.20" stroke="#1a1a1a" stroke-width="0.8"/>
<text x="339.80" y="236.80" font-size="6.9" text-anchor="end" fill="#1a1a1a" stroke="#1a1a1a" stroke-width="0.18">1.5</text>
<line x1="341.20" y1="257.60" x2="344.80" y2="257.60" stroke="#1a1a1a" stroke-width="0.8"/>
<text x="339.80" y="260.20" font-size="6.9" text-anchor="end" fill="#1a1a1a" stroke="#1a1a1a" stroke-width="0.18">1.0</text>
<line x1="341.20" y1="281.00" x2="344.80" y2="281.00" stroke="#1a1a1a" stroke-width="0.8"/>
<text x="339.80" y="283.60" font-size="6.9" text-anchor="end" fill="#1a1a1a" stroke="#1a1a1a" stroke-width="0.18">0.5</text>
<line x1="341.20" y1="304.40" x2="344.80" y2="304.40" stroke="#1a1a1a" stroke-width="0.8"/>
<text x="339.80" y="307.00" font-size="6.9" text-anchor="end" fill="#1a1a1a" stroke="#1a1a1a" stroke-width="0.18">0</text>
<text x="325.40" y="290.60" font-size="7.0" fill="#1a1a1a" stroke="#1a1a1a" stroke-width="0.18" transform="rotate(-90 325.40 290.60)" textLength="83.40" lengthAdjust="spacingAndGlyphs">Target/<tspan font-style="italic">GAPDH</tspan> Expression</text>
<rect x="351.40" y="257.60" width="5.90" height="46.80" fill="#c8209a"/>
<line x1="352.15" y1="257.60" x2="356.55" y2="257.60" stroke="#1a1a1a" stroke-width="2.5" stroke-linecap="round"/>
<rect x="359.02" y="244.50" width="5.90" height="59.90" fill="#1ea55a"/>
<line x1="361.97" y1="243.70" x2="361.97" y2="245.30" stroke="#1a1a1a" stroke-width="0.6"/>
<line x1="360.57" y1="243.70" x2="363.37" y2="243.70" stroke="#1a1a1a" stroke-width="0.6"/>
<line x1="360.57" y1="245.30" x2="363.37" y2="245.30" stroke="#1a1a1a" stroke-width="0.6"/>
<circle cx="360.77" cy="243.70" r="1.15" fill="#1a1a1a"/>
<circle cx="362.77" cy="244.80" r="1.15" fill="#1a1a1a"/>
<circle cx="362.17" cy="245.30" r="1.15" fill="#1a1a1a"/>
<rect x="366.64" y="258.07" width="5.90" height="46.33" fill="#fdc010"/>
<line x1="367.39" y1="258.07" x2="371.79" y2="258.07" stroke="#1a1a1a" stroke-width="2.5" stroke-linecap="round"/>
<rect x="374.26" y="223.67" width="5.90" height="80.73" fill="#87389f"/>
<line x1="377.21" y1="222.67" x2="377.21" y2="224.67" stroke="#1a1a1a" stroke-width="0.6"/>
<line x1="375.81" y1="222.67" x2="378.61" y2="222.67" stroke="#1a1a1a" stroke-width="0.6"/>
<line x1="375.81" y1="224.67" x2="378.61" y2="224.67" stroke="#1a1a1a" stroke-width="0.6"/>
<circle cx="376.01" cy="222.67" r="1.15" fill="#1a1a1a"/>
<circle cx="378.01" cy="223.97" r="1.15" fill="#1a1a1a"/>
<circle cx="377.41" cy="224.67" r="1.15" fill="#1a1a1a"/>
<line x1="366.40" y1="304.40" x2="366.40" y2="309.00" stroke="#1a1a1a" stroke-width="0.9"/>
<rect x="393.00" y="257.60" width="5.90" height="46.80" fill="#c8209a"/>
<line x1="393.75" y1="257.60" x2="398.15" y2="257.60" stroke="#1a1a1a" stroke-width="2.5" stroke-linecap="round"/>
<rect x="400.62" y="248.24" width="5.90" height="56.16" fill="#1ea55a"/>
<line x1="403.57" y1="247.04" x2="403.57" y2="249.44" stroke="#1a1a1a" stroke-width="0.6"/>
<line x1="402.17" y1="247.04" x2="404.97" y2="247.04" stroke="#1a1a1a" stroke-width="0.6"/>
<line x1="402.17" y1="249.44" x2="404.97" y2="249.44" stroke="#1a1a1a" stroke-width="0.6"/>
<circle cx="402.37" cy="247.04" r="1.15" fill="#1a1a1a"/>
<circle cx="404.37" cy="248.54" r="1.15" fill="#1a1a1a"/>
<circle cx="403.77" cy="249.44" r="1.15" fill="#1a1a1a"/>
<rect x="408.24" y="258.30" width="5.90" height="46.10" fill="#fdc010"/>
<line x1="408.99" y1="258.30" x2="413.39" y2="258.30" stroke="#1a1a1a" stroke-width="2.5" stroke-linecap="round"/>
<rect x="415.86" y="239.58" width="5.90" height="64.82" fill="#87389f"/>
<line x1="418.81" y1="239.18" x2="418.81" y2="239.98" stroke="#1a1a1a" stroke-width="0.6"/>
<line x1="417.41" y1="239.18" x2="420.21" y2="239.18" stroke="#1a1a1a" stroke-width="0.6"/>
<line x1="417.41" y1="239.98" x2="420.21" y2="239.98" stroke="#1a1a1a" stroke-width="0.6"/>
<circle cx="417.61" cy="239.18" r="1.15" fill="#1a1a1a"/>
<circle cx="419.61" cy="239.88" r="1.15" fill="#1a1a1a"/>
<circle cx="419.01" cy="239.98" r="1.15" fill="#1a1a1a"/>
<line x1="407.50" y1="304.40" x2="407.50" y2="309.00" stroke="#1a1a1a" stroke-width="0.9"/>
<rect x="435.90" y="257.60" width="5.90" height="46.80" fill="#c8209a"/>
<line x1="436.65" y1="257.60" x2="441.05" y2="257.60" stroke="#1a1a1a" stroke-width="2.5" stroke-linecap="round"/>
<rect x="443.52" y="239.35" width="5.90" height="65.05" fill="#1ea55a"/>
<line x1="446.47" y1="237.35" x2="446.47" y2="241.35" stroke="#1a1a1a" stroke-width="0.6"/>
<line x1="445.07" y1="237.35" x2="447.87" y2="237.35" stroke="#1a1a1a" stroke-width="0.6"/>
<line x1="445.07" y1="241.35" x2="447.87" y2="241.35" stroke="#1a1a1a" stroke-width="0.6"/>
<circle cx="445.27" cy="237.35" r="1.15" fill="#1a1a1a"/>
<circle cx="447.27" cy="239.65" r="1.15" fill="#1a1a1a"/>
<circle cx="446.67" cy="241.35" r="1.15" fill="#1a1a1a"/>
<rect x="451.14" y="258.77" width="5.90" height="45.63" fill="#fdc010"/>
<line x1="451.89" y1="258.77" x2="456.29" y2="258.77" stroke="#1a1a1a" stroke-width="2.5" stroke-linecap="round"/>
<rect x="458.76" y="227.41" width="5.90" height="76.99" fill="#87389f"/>
<line x1="461.71" y1="226.91" x2="461.71" y2="227.91" stroke="#1a1a1a" stroke-width="0.6"/>
<line x1="460.31" y1="226.91" x2="463.11" y2="226.91" stroke="#1a1a1a" stroke-width="0.6"/>
<line x1="460.31" y1="227.91" x2="463.11" y2="227.91" stroke="#1a1a1a" stroke-width="0.6"/>
<circle cx="460.51" cy="226.91" r="1.15" fill="#1a1a1a"/>
<circle cx="462.51" cy="227.71" r="1.15" fill="#1a1a1a"/>
<circle cx="461.91" cy="227.91" r="1.15" fill="#1a1a1a"/>
<line x1="447.60" y1="304.40" x2="447.60" y2="309.00" stroke="#1a1a1a" stroke-width="0.9"/>
<rect x="476.40" y="257.60" width="5.90" height="46.80" fill="#c8209a"/>
<line x1="477.15" y1="257.60" x2="481.55" y2="257.60" stroke="#1a1a1a" stroke-width="2.5" stroke-linecap="round"/>
<rect x="484.02" y="234.90" width="5.90" height="69.50" fill="#1ea55a"/>
<line x1="486.97" y1="229.90" x2="486.97" y2="239.90" stroke="#1a1a1a" stroke-width="0.6"/>
<line x1="485.57" y1="229.90" x2="488.37" y2="229.90" stroke="#1a1a1a" stroke-width="0.6"/>
<line x1="485.57" y1="239.90" x2="488.37" y2="239.90" stroke="#1a1a1a" stroke-width="0.6"/>
<circle cx="485.77" cy="229.90" r="1.15" fill="#1a1a1a"/>
<circle cx="487.77" cy="235.20" r="1.15" fill="#1a1a1a"/>
<circle cx="487.17" cy="239.90" r="1.15" fill="#1a1a1a"/>
<rect x="491.64" y="258.07" width="5.90" height="46.33" fill="#fdc010"/>
<line x1="492.39" y1="258.07" x2="496.79" y2="258.07" stroke="#1a1a1a" stroke-width="2.5" stroke-linecap="round"/>
<rect x="499.26" y="214.08" width="5.90" height="90.32" fill="#87389f"/>
<line x1="502.21" y1="211.88" x2="502.21" y2="216.28" stroke="#1a1a1a" stroke-width="0.6"/>
<line x1="500.81" y1="211.88" x2="503.61" y2="211.88" stroke="#1a1a1a" stroke-width="0.6"/>
<line x1="500.81" y1="216.28" x2="503.61" y2="216.28" stroke="#1a1a1a" stroke-width="0.6"/>
<circle cx="501.01" cy="211.88" r="1.15" fill="#1a1a1a"/>
<circle cx="503.01" cy="214.38" r="1.15" fill="#1a1a1a"/>
<circle cx="502.41" cy="216.28" r="1.15" fill="#1a1a1a"/>
<line x1="490.80" y1="304.40" x2="490.80" y2="309.00" stroke="#1a1a1a" stroke-width="0.9"/>
<text x="366.00" y="315.80" font-size="6.6" text-anchor="middle" fill="#1a1a1a" stroke="#1a1a1a" stroke-width="0.18" font-style="italic" textLength="25.00" lengthAdjust="spacingAndGlyphs">MALAT1</text>
<text x="407.50" y="315.80" font-size="6.6" text-anchor="middle" fill="#1a1a1a" stroke="#1a1a1a" stroke-width="0.18" font-style="italic" textLength="20.50" lengthAdjust="spacingAndGlyphs">BRCA1</text>
<text x="446.50" y="316.80" font-size="6.6" text-anchor="middle" fill="#1a1a1a" stroke="#1a1a1a" stroke-width="0.18" font-style="italic" textLength="20.50" lengthAdjust="spacingAndGlyphs">BRCA2</text>
<text x="490.60" y="315.80" font-size="6.6" text-anchor="middle" fill="#1a1a1a" stroke="#1a1a1a" stroke-width="0.18" font-style="italic" textLength="13.50" lengthAdjust="spacingAndGlyphs">ATM</text>
<line x1="350.80" y1="237.40" x2="361.80" y2="237.40" stroke="#333" stroke-width="0.8"/>
<text x="358.60" y="235.40" font-size="6.4" fill="#1a1a1a" stroke="#1a1a1a" stroke-width="0.18" transform="rotate(-90 358.60 235.40)" textLength="25.70" lengthAdjust="spacingAndGlyphs"><tspan font-style="italic">P</tspan>=0.0001</text>
<line x1="367.00" y1="217.20" x2="378.50" y2="217.20" stroke="#333" stroke-width="0.8"/>
<text x="374.90" y="215.20" font-size="6.4" fill="#1a1a1a" stroke="#1a1a1a" stroke-width="0.18" transform="rotate(-90 374.90 215.20)" textLength="21.70" lengthAdjust="spacingAndGlyphs"><tspan font-style="italic">P</tspan>&lt;0.001</text>
<line x1="393.40" y1="242.80" x2="404.40" y2="242.80" stroke="#333" stroke-width="0.8"/>
<text x="400.60" y="240.40" font-size="6.4" fill="#1a1a1a" stroke="#1a1a1a" stroke-width="0.18" transform="rotate(-90 400.60 240.40)" textLength="25.70" lengthAdjust="spacingAndGlyphs"><tspan font-style="italic">P</tspan>&lt;0.0083</text>
<line x1="408.60" y1="234.90" x2="419.60" y2="234.90" stroke="#333" stroke-width="0.8"/>
<text x="416.50" y="233.10" font-size="6.4" fill="#1a1a1a" stroke="#1a1a1a" stroke-width="0.18" transform="rotate(-90 416.50 233.10)" textLength="25.40" lengthAdjust="spacingAndGlyphs"><tspan font-style="italic">P</tspan>&lt;0.0001</text>
<line x1="436.80" y1="228.50" x2="447.80" y2="228.50" stroke="#333" stroke-width="0.8"/>
<text x="445.10" y="226.50" font-size="6.4" fill="#1a1a1a" stroke="#1a1a1a" stroke-width="0.18" transform="rotate(-90 445.10 226.50)" textLength="22.60" lengthAdjust="spacingAndGlyphs"><tspan font-style="italic">P</tspan>&lt;0.001</text>
<line x1="452.00" y1="222.60" x2="463.20" y2="222.60" stroke="#333" stroke-width="0.8"/>
<text x="459.90" y="220.60" font-size="6.4" fill="#1a1a1a" stroke="#1a1a1a" stroke-width="0.18" transform="rotate(-90 459.90 220.60)" textLength="21.80" lengthAdjust="spacingAndGlyphs"><tspan font-style="italic">P</tspan>&lt;0.001</text>
<line x1="476.40" y1="223.00" x2="487.40" y2="223.00" stroke="#333" stroke-width="0.8"/>
<text x="484.30" y="221.20" font-size="6.4" fill="#1a1a1a" stroke="#1a1a1a" stroke-width="0.18" transform="rotate(-90 484.30 221.20)" textLength="22.40" lengthAdjust="spacingAndGlyphs"><tspan font-style="italic">P</tspan>&lt;0.001</text>
<line x1="491.90" y1="207.10" x2="502.90" y2="207.10" stroke="#333" stroke-width="0.8"/>
<text x="499.90" y="204.80" font-size="6.4" fill="#1a1a1a" stroke="#1a1a1a" stroke-width="0.18" transform="rotate(-90 499.90 204.80)" textLength="21.80" lengthAdjust="spacingAndGlyphs"><tspan font-style="italic">P</tspan>&lt;0.001</text>
<rect x="368.50" y="168.80" width="3.00" height="3.00" fill="#c8209a"/>
<text x="372.90" y="172.70" font-size="6.8" fill="#1a1a1a" stroke="#1a1a1a" stroke-width="0.18" textLength="56.30" lengthAdjust="spacingAndGlyphs">shSCRM+anti-NT</text>
<rect x="435.40" y="168.80" width="3.00" height="3.00" fill="#2bb8a6"/>
<text x="440.60" y="172.70" font-size="6.8" fill="#1a1a1a" stroke="#1a1a1a" stroke-width="0.18" textLength="70.20" lengthAdjust="spacingAndGlyphs">shSCRM+anti-miR-421</text>
<rect x="368.50" y="175.00" width="3.00" height="3.00" fill="#fdc010"/>
<text x="372.90" y="178.90" font-size="6.8" fill="#1a1a1a" stroke="#1a1a1a" stroke-width="0.18" textLength="58.50" lengthAdjust="spacingAndGlyphs">sh<tspan font-style="italic">MALAT1</tspan>+antiNT</text>
<rect x="435.40" y="175.00" width="3.00" height="3.00" fill="#87389f"/>
<text x="440.60" y="178.90" font-size="6.8" fill="#1a1a1a" stroke="#1a1a1a" stroke-width="0.18" textLength="77.00" lengthAdjust="spacingAndGlyphs">sh<tspan font-style="italic">MALAT1</tspan>+anti-miR-421</text>
<text x="0.60" y="356.20" font-size="12.4" fill="#000" font-weight="bold">F</text>
<text x="18.00" y="366.90" font-size="6.4" fill="#1a1a1a" stroke="#1a1a1a" stroke-width="0.18" textLength="104.50" lengthAdjust="spacingAndGlyphs">3'-cGCGGGUUAAUUACAGACAACUA-5'</text>
<text x="126.00" y="366.90" font-size="6.8" fill="#1a1a1a" stroke="#1a1a1a" stroke-width="0.18" textLength="22.00" lengthAdjust="spacingAndGlyphs">miR-421</text>
<line x1="58.30" y1="368.70" x2="58.30" y2="372.30" stroke="#000" stroke-width="0.8"/>
<line x1="61.00" y1="368.70" x2="61.00" y2="372.30" stroke="#000" stroke-width="0.8"/>
<rect x="63.40" y="369.00" width="0.80" height="0.90" fill="#000"/>
<rect x="63.40" y="371.10" width="0.80" height="0.90" fill="#000"/>
<line x1="69.30" y1="368.70" x2="69.30" y2="372.30" stroke="#000" stroke-width="0.8"/>
<line x1="72.61" y1="368.70" x2="72.61" y2="372.30" stroke="#000" stroke-width="0.8"/>
<line x1="75.92" y1="368.70" x2="75.92" y2="372.30" stroke="#000" stroke-width="0.8"/>
<line x1="79.23" y1="368.70" x2="79.23" y2="372.30" stroke="#000" stroke-width="0.8"/>
<line x1="82.54" y1="368.70" x2="82.54" y2="372.30" stroke="#000" stroke-width="0.8"/>
<line x1="85.85" y1="368.70" x2="85.85" y2="372.30" stroke="#000" stroke-width="0.8"/>
<line x1="89.16" y1="368.70" x2="89.16" y2="372.30" stroke="#000" stroke-width="0.8"/>
<line x1="92.47" y1="368.70" x2="92.47" y2="372.30" stroke="#000" stroke-width="0.8"/>
<line x1="95.78" y1="368.70" x2="95.78" y2="372.30" stroke="#000" stroke-width="0.8"/>
<text x="18.80" y="376.90" font-size="6.4" fill="#1a1a1a" stroke="#1a1a1a" stroke-width="0.18" textLength="101.20" lengthAdjust="spacingAndGlyphs">5'-___GUGACUUGAUGUCUGUUUG-3'</text>
<text x="125.70" y="376.90" font-size="6.8" fill="#1a1a1a" stroke="#1a1a1a" stroke-width="0.18" font-style="italic" textLength="21.00" lengthAdjust="spacingAndGlyphs">MALAT1</text>
<path d="M28.8 381.3 L82.6 392.4 L145 380" fill="none" stroke="#e6189b" stroke-width="0.8"/>
<line x1="82.60" y1="392.40" x2="82.60" y2="419.20" stroke="#e6189b" stroke-width="0.8"/>
<text x="103.80" y="396.60" font-size="6.4" fill="#1a1a1a" stroke="#1a1a1a" stroke-width="0.18" textLength="101.00" lengthAdjust="spacingAndGlyphs">3'-cGCGGUUAAUUACAGACAACUA-5'</text>
<text x="208.30" y="396.80" font-size="7.4" fill="#1a1a1a" stroke="#1a1a1a" stroke-width="0.18" textLength="25.30" lengthAdjust="spacingAndGlyphs">miR-421</text>
<line x1="125.00" y1="397.40" x2="125.00" y2="401.00" stroke="#000" stroke-width="0.8"/>
<rect x="128.20" y="397.70" width="0.80" height="0.90" fill="#000"/>
<rect x="128.20" y="399.80" width="0.80" height="0.90" fill="#000"/>
<rect x="131.80" y="397.70" width="0.80" height="0.90" fill="#000"/>
<rect x="131.80" y="399.80" width="0.80" height="0.90" fill="#000"/>
<line x1="134.90" y1="397.40" x2="134.90" y2="401.00" stroke="#000" stroke-width="0.8"/>
<line x1="137.70" y1="397.40" x2="137.70" y2="401.00" stroke="#000" stroke-width="0.8"/>
<rect x="140.20" y="397.70" width="0.80" height="0.90" fill="#000"/>
<rect x="140.20" y="399.80" width="0.80" height="0.90" fill="#000"/>
<line x1="148.20" y1="397.40" x2="148.20" y2="401.00" stroke="#000" stroke-width="0.8"/>
<line x1="151.38" y1="397.40" x2="151.38" y2="401.00" stroke="#000" stroke-width="0.8"/>
<line x1="154.56" y1="397.40" x2="154.56" y2="401.00" stroke="#000" stroke-width="0.8"/>
<line x1="157.74" y1="397.40" x2="157.74" y2="401.00" stroke="#000" stroke-width="0.8"/>
<line x1="160.92" y1="397.40" x2="160.92" y2="401.00" stroke="#000" stroke-width="0.8"/>
<line x1="164.10" y1="397.40" x2="164.10" y2="401.00" stroke="#000" stroke-width="0.8"/>
<line x1="167.28" y1="397.40" x2="167.28" y2="401.00" stroke="#000" stroke-width="0.8"/>
<rect x="173.60" y="397.70" width="0.80" height="0.90" fill="#000"/>
<rect x="173.60" y="399.80" width="0.80" height="0.90" fill="#000"/>
<text x="102.00" y="406.60" font-size="6.4" fill="#1a1a1a" stroke="#1a1a1a" stroke-width="0.18" textLength="104.00" lengthAdjust="spacingAndGlyphs">5'-UGAACGGUUGUUGUCUGUCUGG-3'</text>
<text x="209.80" y="406.80" font-size="7.4" fill="#1a1a1a" stroke="#1a1a1a" stroke-width="0.18" font-style="italic" textLength="23.80" lengthAdjust="spacingAndGlyphs">MALAT1</text>
<path d="M102.6 405.6 L95.6 412.8 L204.8 407.0 M95.6 412.8 V419.2" fill="none" stroke="#e6189b" stroke-width="0.8"/>
<line x1="177.00" y1="358.00" x2="182.60" y2="358.00" stroke="#7a9a2e" stroke-width="1.2"/>
<text x="186.30" y="360.40" font-size="6.8" fill="#1a1a1a" stroke="#1a1a1a" stroke-width="0.18" textLength="58.70" lengthAdjust="spacingAndGlyphs">AGO2-binding site</text>
<line x1="177.00" y1="366.80" x2="182.60" y2="366.80" stroke="#e6189b" stroke-width="1.2"/>
<text x="186.30" y="369.20" font-size="6.8" fill="#1a1a1a" stroke="#1a1a1a" stroke-width="0.18" textLength="26.20" lengthAdjust="spacingAndGlyphs">miR-421</text>
<text x="35.50" y="421.20" font-size="6.8" fill="#2a3580" stroke="#2a3580" stroke-width="0.18" font-style="italic" textLength="25.80" lengthAdjust="spacingAndGlyphs">MALAT1</text>
<rect x="64.30" y="417.40" width="87.00" height="2.00" fill="#1b1f5e"/>
<line x1="64.40" y1="415.80" x2="64.40" y2="421.20" stroke="#1a1a1a" stroke-width="0.7"/>
<line x1="151.20" y1="415.80" x2="151.20" y2="421.20" stroke="#1a1a1a" stroke-width="0.7"/>
<rect x="97.50" y="417.60" width="5.20" height="1.60" fill="#7a9a2e"/>
<path d="M80.5 420.6 h4.2 l-2.1 -3.2 Z M93.5 420.6 h4.2 l-2.1 -3.2 Z" fill="#e6189b"/>
<text x="58.80" y="415.40" font-size="6.2" fill="#1a1a1a" stroke="#1a1a1a" stroke-width="0.18" textLength="17.00" lengthAdjust="spacingAndGlyphs">+5500</text>
<text x="148.20" y="415.80" font-size="6.2" fill="#1a1a1a" stroke="#1a1a1a" stroke-width="0.18" textLength="14.60" lengthAdjust="spacingAndGlyphs">+8708</text>
<text x="63.60" y="427.00" font-size="5.6" fill="#1a1a1a" stroke="#1a1a1a" stroke-width="0.18" font-style="italic">5'</text>
<text x="149.20" y="427.00" font-size="5.6" fill="#1a1a1a" stroke="#1a1a1a" stroke-width="0.18" font-style="italic">3'</text>
<text x="0.60" y="440.80" font-size="12.4" fill="#000" font-weight="bold">G</text>
<text x="18.80" y="452.60" font-size="6.8" fill="#1a1a1a" stroke="#1a1a1a" stroke-width="0.18" textLength="30.70" lengthAdjust="spacingAndGlyphs">Firefly luc</text>
<text x="118.00" y="452.60" font-size="6.8" fill="#1a1a1a" stroke="#1a1a1a" stroke-width="0.18" textLength="68.30" lengthAdjust="spacingAndGlyphs">miR-421–binding site</text>
<rect x="90" y="455.2" width="110.5" height="7.2" rx="3.6" fill="#fff" stroke="#222" stroke-width="0.7"/>
<rect x="17.6" y="455.2" width="93.8" height="7.2" rx="3.6" fill="url(#gO)" stroke="#222" stroke-width="0.7"/>
<rect x="134.4" y="455.2" width="23.2" height="7.2" rx="3.6" fill="url(#gM)" stroke="#222" stroke-width="0.7"/>
<text x="205.00" y="463.00" font-size="6.8" fill="#1a1a1a" stroke="#1a1a1a" stroke-width="0.18" font-style="italic" textLength="25.00" lengthAdjust="spacingAndGlyphs">MALAT1</text>
<line x1="134.60" y1="462.60" x2="94.50" y2="487.00" stroke="#555" stroke-width="0.5"/>
<line x1="157.40" y1="462.60" x2="188.80" y2="485.20" stroke="#555" stroke-width="0.5"/>
<text x="31.80" y="493.70" font-size="6.8" fill="#1a1a1a" stroke="#1a1a1a" stroke-width="0.18" textLength="29.50" lengthAdjust="spacingAndGlyphs">Wild type</text>
<text x="63.00" y="493.90" font-size="6.8" fill="#1a1a1a" stroke="#1a1a1a" stroke-width="0.18" textLength="145.80" lengthAdjust="spacingAndGlyphs">5'-GGTCTGTCTGTTCTGTTGGCAAGTAAATG-3'</text>
<text x="35.00" y="504.20" font-size="6.8" fill="#1a1a1a" stroke="#1a1a1a" stroke-width="0.18" textLength="23.00" lengthAdjust="spacingAndGlyphs">Mutant</text>
<text x="63.00" y="504.40" font-size="6.8" fill="#1a1a1a" stroke="#1a1a1a" stroke-width="0.18" textLength="151.50" lengthAdjust="spacingAndGlyphs">5'-GGTC<tspan fill="#ee1c25" font-weight="bold">GA</tspan>TC<tspan fill="#ee1c25" font-weight="bold">G</tspan>G<tspan fill="#ee1c25" font-weight="bold">CA</tspan>CTG<tspan fill="#ee1c25" font-weight="bold">CCT</tspan>GCAA<tspan fill="#ee1c25" font-weight="bold">A</tspan>TAAATG-3'</text>
<text x="257.00" y="356.40" font-size="12.4" fill="#000" font-weight="bold">H</text>
<text x="270.00" y="369.40" font-size="6.8" fill="#1a1a1a" stroke="#1a1a1a" stroke-width="0.18" textLength="28.00" lengthAdjust="spacingAndGlyphs">HEK293T</text>
<rect x="315.50" y="363.80" width="5.00" height="5.00" fill="#34348f"/>
<text x="322.50" y="368.80" font-size="7.0" fill="#1a1a1a" stroke="#1a1a1a" stroke-width="0.18" textLength="30.50" lengthAdjust="spacingAndGlyphs">NT mimic</text>
<rect x="315.50" y="372.10" width="5.00" height="5.00" fill="#c8209a"/>
<text x="322.50" y="377.20" font-size="7.0" fill="#1a1a1a" stroke="#1a1a1a" stroke-width="0.18" textLength="48.80" lengthAdjust="spacingAndGlyphs">miR-421 mimic</text>
<line x1="283.50" y1="377.60" x2="283.50" y2="487.25" stroke="#1a1a1a" stroke-width="0.9"/>
<line x1="283.05" y1="486.80" x2="371.40" y2="486.80" stroke="#1a1a1a" stroke-width="0.9"/>
<line x1="280.20" y1="378.08" x2="283.50" y2="378.08" stroke="#1a1a1a" stroke-width="0.8"/>
<text x="278.90" y="380.68" font-size="6.9" text-anchor="end" fill="#1a1a1a" stroke="#1a1a1a" stroke-width="0.18">1.2</text>
<line x1="280.20" y1="396.20" x2="283.50" y2="396.20" stroke="#1a1a1a" stroke-width="0.8"/>
<text x="278.90" y="398.80" font-size="6.9" text-anchor="end" fill="#1a1a1a" stroke="#1a1a1a" stroke-width="0.18">1</text>
<line x1="280.20" y1="414.32" x2="283.50" y2="414.32" stroke="#1a1a1a" stroke-width="0.8"/>
<text x="278.90" y="416.92" font-size="6.9" text-anchor="end" fill="#1a1a1a" stroke="#1a1a1a" stroke-width="0.18">0.8</text>
<line x1="280.20" y1="432.44" x2="283.50" y2="432.44" stroke="#1a1a1a" stroke-width="0.8"/>
<text x="278.90" y="435.04" font-size="6.9" text-anchor="end" fill="#1a1a1a" stroke="#1a1a1a" stroke-width="0.18">0.6</text>
<line x1="280.20" y1="450.56" x2="283.50" y2="450.56" stroke="#1a1a1a" stroke-width="0.8"/>
<text x="278.90" y="453.16" font-size="6.9" text-anchor="end" fill="#1a1a1a" stroke="#1a1a1a" stroke-width="0.18">0.4</text>
<line x1="280.20" y1="468.68" x2="283.50" y2="468.68" stroke="#1a1a1a" stroke-width="0.8"/>
<text x="278.90" y="471.28" font-size="6.9" text-anchor="end" fill="#1a1a1a" stroke="#1a1a1a" stroke-width="0.18">0.2</text>
<line x1="280.20" y1="486.80" x2="283.50" y2="486.80" stroke="#1a1a1a" stroke-width="0.8"/>
<text x="278.90" y="489.40" font-size="6.9" text-anchor="end" fill="#1a1a1a" stroke="#1a1a1a" stroke-width="0.18">0</text>
<rect x="291.90" y="396.20" width="6.90" height="90.60" fill="#34348f"/>
<line x1="295.35" y1="393.00" x2="295.35" y2="399.40" stroke="#1a1a1a" stroke-width="0.6"/>
<line x1="293.05" y1="393.00" x2="297.65" y2="393.00" stroke="#1a1a1a" stroke-width="0.6"/>
<line x1="293.05" y1="399.40" x2="297.65" y2="399.40" stroke="#1a1a1a" stroke-width="0.6"/>
<circle cx="295.35" cy="390.80" r="1.15" fill="#1a1a1a"/>
<circle cx="295.05" cy="395.60" r="1.15" fill="#1a1a1a"/>
<circle cx="295.55" cy="397.60" r="1.15" fill="#1a1a1a"/>
<circle cx="295.35" cy="400.00" r="1.15" fill="#1a1a1a"/>
<rect x="307.20" y="436.34" width="6.90" height="50.46" fill="#c8209a"/>
<line x1="310.65" y1="432.94" x2="310.65" y2="439.74" stroke="#1a1a1a" stroke-width="0.6"/>
<line x1="308.35" y1="432.94" x2="312.95" y2="432.94" stroke="#1a1a1a" stroke-width="0.6"/>
<line x1="308.35" y1="439.74" x2="312.95" y2="439.74" stroke="#1a1a1a" stroke-width="0.6"/>
<circle cx="310.65" cy="430.74" r="1.15" fill="#1a1a1a"/>
<circle cx="310.35" cy="435.74" r="1.15" fill="#1a1a1a"/>
<circle cx="310.85" cy="437.74" r="1.15" fill="#1a1a1a"/>
<circle cx="310.65" cy="440.34" r="1.15" fill="#1a1a1a"/>
<rect x="336.30" y="396.20" width="6.80" height="90.60" fill="#34348f"/>
<line x1="339.70" y1="395.20" x2="339.70" y2="397.20" stroke="#1a1a1a" stroke-width="0.6"/>
<line x1="337.40" y1="395.20" x2="342.00" y2="395.20" stroke="#1a1a1a" stroke-width="0.6"/>
<line x1="337.40" y1="397.20" x2="342.00" y2="397.20" stroke="#1a1a1a" stroke-width="0.6"/>
<circle cx="338.30" cy="395.00" r="1.15" fill="#1a1a1a"/>
<circle cx="341.30" cy="395.60" r="1.15" fill="#1a1a1a"/>
<circle cx="339.90" cy="396.80" r="1.15" fill="#1a1a1a"/>
<rect x="351.20" y="396.20" width="7.00" height="90.60" fill="#c8209a"/>
<line x1="354.70" y1="393.00" x2="354.70" y2="399.40" stroke="#1a1a1a" stroke-width="0.6"/>
<line x1="352.40" y1="393.00" x2="357.00" y2="393.00" stroke="#1a1a1a" stroke-width="0.6"/>
<line x1="352.40" y1="399.40" x2="357.00" y2="399.40" stroke="#1a1a1a" stroke-width="0.6"/>
<circle cx="354.70" cy="390.80" r="1.15" fill="#1a1a1a"/>
<circle cx="354.40" cy="395.60" r="1.15" fill="#1a1a1a"/>
<circle cx="354.90" cy="397.60" r="1.15" fill="#1a1a1a"/>
<circle cx="354.70" cy="400.00" r="1.15" fill="#1a1a1a"/>
<line x1="302.80" y1="486.80" x2="302.80" y2="490.80" stroke="#1a1a1a" stroke-width="0.8"/>
<line x1="347.30" y1="486.80" x2="347.30" y2="490.80" stroke="#1a1a1a" stroke-width="0.8"/>
<text x="281.90" y="498.00" font-size="6.9" fill="#1a1a1a" stroke="#1a1a1a" stroke-width="0.18" textLength="39.00" lengthAdjust="spacingAndGlyphs"><tspan font-style="italic">MALAT1</tspan>-WT</text>
<text x="328.00" y="498.00" font-size="6.9" fill="#1a1a1a" stroke="#1a1a1a" stroke-width="0.18" textLength="43.30" lengthAdjust="spacingAndGlyphs"><tspan font-style="italic">MALAT1</tspan>-mut</text>
<text x="264.30" y="464.40" font-size="7.0" fill="#1a1a1a" stroke="#1a1a1a" stroke-width="0.18" transform="rotate(-90 264.30 464.40)" textLength="57.40" lengthAdjust="spacingAndGlyphs">Luciferase activity</text>
<text x="311.90" y="426.60" font-size="6.4" fill="#1a1a1a" stroke="#1a1a1a" stroke-width="0.18" transform="rotate(-90 311.90 426.60)" textLength="26.00" lengthAdjust="spacingAndGlyphs"><tspan font-style="italic">P</tspan>&lt;0.0001</text>
<text x="383.20" y="356.40" font-size="12.4" fill="#000" font-weight="bold">I</text>
<text x="398.30" y="351.40" font-size="6.8" fill="#1a1a1a" stroke="#1a1a1a" stroke-width="0.18" textLength="19.40" lengthAdjust="spacingAndGlyphs">22RV1</text>
<text x="471.00" y="350.40" font-size="7.0" text-anchor="middle" fill="#1a1a1a" stroke="#1a1a1a" stroke-width="0.18">IP</text>
<line x1="451.40" y1="353.20" x2="490.40" y2="353.20" stroke="#1a1a1a" stroke-width="0.8"/>
<text x="425.80" y="361.90" font-size="7.0" fill="#1a1a1a" stroke="#1a1a1a" stroke-width="0.18" textLength="17.50" lengthAdjust="spacingAndGlyphs">Input</text>
<text x="454.90" y="361.90" font-size="7.0" fill="#1a1a1a" stroke="#1a1a1a" stroke-width="0.18" textLength="11.30" lengthAdjust="spacingAndGlyphs">IgG</text>
<text x="468.90" y="361.90" font-size="7.0" fill="#1a1a1a" stroke="#1a1a1a" stroke-width="0.18" textLength="19.30" lengthAdjust="spacingAndGlyphs">AGO2</text>
<rect x="423.90" y="364.20" width="66.50" height="20.50" fill="url(#gB)"/>
<rect x="430.4" y="369.3" width="15.2" height="11.4" rx="5.2" fill="#0c0c0c" filter="url(#bl)"/>
<ellipse cx="462.4" cy="375.0" rx="4.0" ry="1.5" fill="#8a8a8a" filter="url(#bl)"/>
<rect x="469.8" y="371.2" width="14.2" height="7.4" rx="3.6" fill="#101010" filter="url(#bl)"/>
<text x="393.50" y="377.40" font-size="7.0" fill="#1a1a1a" stroke="#1a1a1a" stroke-width="0.18" textLength="28.20" lengthAdjust="spacingAndGlyphs">IB: AGO2</text>
<line x1="490.60" y1="375.20" x2="493.40" y2="375.20" stroke="#1a1a1a" stroke-width="0.8"/>
<text x="495.20" y="377.60" font-size="7.0" fill="#1a1a1a" stroke="#1a1a1a" stroke-width="0.18" textLength="20.80" lengthAdjust="spacingAndGlyphs">71 kDa</text>
<rect x="495.20" y="385.60" width="4.20" height="4.20" fill="#34348f"/>
<text x="501.70" y="390.40" font-size="7.0" fill="#1a1a1a" stroke="#1a1a1a" stroke-width="0.18" textLength="10.30" lengthAdjust="spacingAndGlyphs">IgG</text>
<rect x="495.20" y="395.20" width="4.20" height="4.20" fill="#c8209a"/>
<text x="501.70" y="400.00" font-size="7.0" fill="#1a1a1a" stroke="#1a1a1a" stroke-width="0.18" textLength="18.30" lengthAdjust="spacingAndGlyphs">AGO2</text>
<line x1="411.40" y1="394.90" x2="411.40" y2="493.05" stroke="#1a1a1a" stroke-width="0.9"/>
<line x1="410.95" y1="492.60" x2="490.40" y2="492.60" stroke="#1a1a1a" stroke-width="0.9"/>
<line x1="408.40" y1="395.40" x2="411.40" y2="395.40" stroke="#1a1a1a" stroke-width="0.8"/>
<text x="407.20" y="398.00" font-size="6.9" text-anchor="end" fill="#1a1a1a" stroke="#1a1a1a" stroke-width="0.18" textLength="8.60" lengthAdjust="spacingAndGlyphs">0.5</text>
<line x1="408.40" y1="414.84" x2="411.40" y2="414.84" stroke="#1a1a1a" stroke-width="0.8"/>
<text x="407.20" y="417.44" font-size="6.9" text-anchor="end" fill="#1a1a1a" stroke="#1a1a1a" stroke-width="0.18" textLength="8.60" lengthAdjust="spacingAndGlyphs">0.4</text>
<line x1="408.40" y1="434.28" x2="411.40" y2="434.28" stroke="#1a1a1a" stroke-width="0.8"/>
<text x="407.20" y="436.88" font-size="6.9" text-anchor="end" fill="#1a1a1a" stroke="#1a1a1a" stroke-width="0.18" textLength="8.60" lengthAdjust="spacingAndGlyphs">0.3</text>
<line x1="408.40" y1="453.72" x2="411.40" y2="453.72" stroke="#1a1a1a" stroke-width="0.8"/>
<text x="407.20" y="456.32" font-size="6.9" text-anchor="end" fill="#1a1a1a" stroke="#1a1a1a" stroke-width="0.18" textLength="8.60" lengthAdjust="spacingAndGlyphs">0.2</text>
<line x1="408.40" y1="473.16" x2="411.40" y2="473.16" stroke="#1a1a1a" stroke-width="0.8"/>
<text x="407.20" y="475.76" font-size="6.9" text-anchor="end" fill="#1a1a1a" stroke="#1a1a1a" stroke-width="0.18" textLength="8.60" lengthAdjust="spacingAndGlyphs">0.1</text>
<line x1="408.40" y1="492.60" x2="411.40" y2="492.60" stroke="#1a1a1a" stroke-width="0.8"/>
<text x="407.20" y="495.20" font-size="6.9" text-anchor="end" fill="#1a1a1a" stroke="#1a1a1a" stroke-width="0.18" textLength="8.60" lengthAdjust="spacingAndGlyphs">0.0</text>
<circle cx="419.60" cy="492.10" r="1.0" fill="#1a1a1a"/>
<circle cx="421.60" cy="492.10" r="1.0" fill="#1a1a1a"/>
<circle cx="423.60" cy="492.10" r="1.0" fill="#1a1a1a"/>
<rect x="433.80" y="406.48" width="7.20" height="86.12" fill="#c8209a"/>
<line x1="437.40" y1="404.08" x2="437.40" y2="408.88" stroke="#1a1a1a" stroke-width="0.6"/>
<line x1="435.00" y1="404.08" x2="439.80" y2="404.08" stroke="#1a1a1a" stroke-width="0.6"/>
<line x1="435.00" y1="408.88" x2="439.80" y2="408.88" stroke="#1a1a1a" stroke-width="0.6"/>
<circle cx="436.40" cy="402.88" r="1.15" fill="#1a1a1a"/>
<circle cx="438.60" cy="406.08" r="1.15" fill="#1a1a1a"/>
<circle cx="437.80" cy="409.48" r="1.15" fill="#1a1a1a"/>
<rect x="460.40" y="478.99" width="6.90" height="13.61" fill="#34348f"/>
<line x1="463.85" y1="477.19" x2="463.85" y2="480.79" stroke="#1a1a1a" stroke-width="0.6"/>
<line x1="461.45" y1="477.19" x2="466.25" y2="477.19" stroke="#1a1a1a" stroke-width="0.6"/>
<line x1="461.45" y1="480.79" x2="466.25" y2="480.79" stroke="#1a1a1a" stroke-width="0.6"/>
<circle cx="463.85" cy="476.39" r="1.15" fill="#1a1a1a"/>
<circle cx="463.45" cy="479.19" r="1.15" fill="#1a1a1a"/>
<circle cx="464.15" cy="481.19" r="1.15" fill="#1a1a1a"/>
<rect x="476.00" y="427.48" width="7.20" height="65.12" fill="#c8209a"/>
<line x1="479.60" y1="418.48" x2="479.60" y2="436.48" stroke="#1a1a1a" stroke-width="0.6"/>
<line x1="477.20" y1="418.48" x2="482.00" y2="418.48" stroke="#1a1a1a" stroke-width="0.6"/>
<line x1="477.20" y1="436.48" x2="482.00" y2="436.48" stroke="#1a1a1a" stroke-width="0.6"/>
<circle cx="479.80" cy="410.28" r="1.15" fill="#1a1a1a"/>
<circle cx="479.60" cy="433.48" r="1.15" fill="#1a1a1a"/>
<circle cx="479.80" cy="438.48" r="1.15" fill="#1a1a1a"/>
<line x1="429.50" y1="492.60" x2="429.50" y2="496.60" stroke="#1a1a1a" stroke-width="0.8"/>
<line x1="471.80" y1="492.60" x2="471.80" y2="496.60" stroke="#1a1a1a" stroke-width="0.8"/>
<text x="418.40" y="503.30" font-size="7.0" fill="#1a1a1a" stroke="#1a1a1a" stroke-width="0.18" font-style="italic" textLength="25.80" lengthAdjust="spacingAndGlyphs">MALAT1</text>
<text x="458.00" y="503.30" font-size="7.0" fill="#1a1a1a" stroke="#1a1a1a" stroke-width="0.18" textLength="26.60" lengthAdjust="spacingAndGlyphs">miR-421</text>
<text x="419.00" y="400.00" font-size="6.6" fill="#1a1a1a" stroke="#1a1a1a" stroke-width="0.18" textLength="25.60" lengthAdjust="spacingAndGlyphs"><tspan font-style="italic">P</tspan>&lt;0.0001</text>
<text x="462.10" y="406.80" font-size="6.6" fill="#1a1a1a" stroke="#1a1a1a" stroke-width="0.18" textLength="26.10" lengthAdjust="spacingAndGlyphs"><tspan font-style="italic">P</tspan>=0.0003</text>
<text x="395.80" y="449.50" font-size="7.0" fill="#1a1a1a" stroke="#1a1a1a" stroke-width="0.18" transform="rotate(-90 395.80 449.50)" textLength="25.20" lengthAdjust="spacingAndGlyphs">% Input</text>
</svg>
</body></html>
